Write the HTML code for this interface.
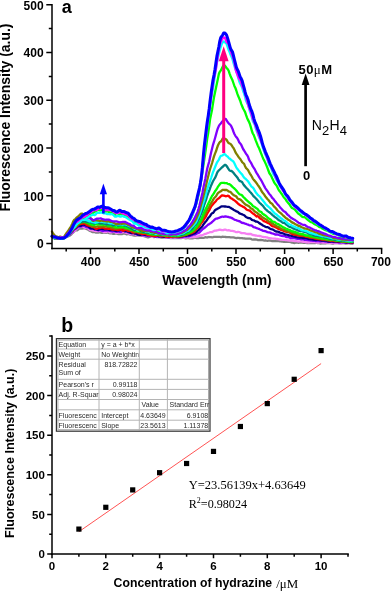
<!DOCTYPE html>
<html><head><meta charset="utf-8"><title>Fluorescence spectra</title>
<style>html,body{margin:0;padding:0;background:#fff}svg{display:block}</style></head>
<body>
<svg width="392" height="591" viewBox="0 0 392 591">
<rect width="392" height="591" fill="#fff"/>
<g font-family="'Liberation Sans', Arial, sans-serif" font-weight="bold" fill="#000">
<g><polyline points="52.0,236.8 52.9,237.4 53.9,238.0 54.9,238.5 55.9,238.7 56.8,238.8 57.8,238.4 58.8,238.2 59.7,238.5 60.7,238.6 61.7,238.2 62.7,238.0 63.6,238.0 64.6,238.0 65.6,237.3 66.5,236.8 67.5,236.6 68.5,236.2 69.4,235.8 70.4,235.2 71.4,234.3 72.4,233.3 73.3,232.4 74.3,231.4 75.3,230.6 76.2,230.4 77.2,230.3 78.2,229.6 79.1,228.7 80.1,228.5 81.1,228.6 82.1,228.5 83.0,228.4 84.0,228.3 85.0,228.3 85.9,228.8 86.9,229.2 87.9,229.5 88.9,230.2 89.8,230.8 90.8,231.1 91.8,231.7 92.7,232.2 93.7,232.1 94.7,232.1 95.6,232.6 96.6,232.5 97.6,232.5 98.6,232.5 99.5,232.1 100.5,232.3 101.5,232.9 102.4,232.8 103.4,232.7 104.4,232.7 105.3,232.8 106.3,232.8 107.3,232.6 108.3,232.7 109.2,233.1 110.2,233.3 111.2,233.3 112.1,233.5 113.1,233.8 114.1,233.9 115.0,233.6 116.0,233.3 117.0,233.5 118.0,234.1 118.9,234.0 119.9,233.9 120.9,234.2 121.8,234.1 122.8,233.6 123.8,233.3 124.8,233.5 125.7,234.0 126.7,234.3 127.7,234.1 128.6,234.0 129.6,234.4 130.6,234.8 131.5,234.8 132.5,235.1 133.5,235.4 134.5,235.7 135.4,235.6 136.4,235.5 137.4,235.2 138.3,235.3 139.3,235.6 140.3,235.7 141.2,235.8 142.2,235.8 143.2,235.9 144.2,236.2 145.1,236.5 146.1,236.7 147.1,237.2 148.0,237.4 149.0,237.1 150.0,236.9 150.9,236.5 151.9,236.2 152.9,236.8 153.9,237.2 154.8,236.9 155.8,236.9 156.8,237.1 157.7,237.1 158.7,236.9 159.7,237.1 160.7,237.5 161.6,237.5 162.6,237.5 163.6,237.7 164.5,237.6 165.5,237.6 166.5,237.4 167.4,237.4 168.4,237.7 169.4,237.8 170.4,238.0 171.3,238.2 172.3,238.1 173.3,238.0 174.2,238.1 175.2,238.1 176.2,238.1 177.1,238.0 178.1,238.0 179.1,237.9 180.1,238.1 181.0,238.2 182.0,237.9 183.0,237.8 183.9,238.0 184.9,238.2 185.9,238.3 186.9,238.2 187.8,238.1 188.8,238.1 189.8,238.3 190.7,238.3 191.7,238.4 192.7,238.3 193.6,238.0 194.6,237.9 195.6,237.9 196.6,238.0 197.5,238.1 198.5,238.0 199.5,237.9 200.4,237.8 201.4,237.7 202.4,237.8 203.3,237.8 204.3,237.6 205.3,237.2 206.3,237.4 207.2,237.5 208.2,237.1 209.2,237.0 210.1,237.2 211.1,237.2 212.1,237.3 213.0,237.2 214.0,236.9 215.0,236.8 216.0,236.9 216.9,236.9 217.9,236.8 218.9,236.8 219.8,236.9 220.8,237.1 221.8,237.0 222.8,236.7 223.7,236.8 224.7,236.9 225.7,237.0 226.6,237.1 227.6,237.1 228.6,237.1 229.5,237.2 230.5,237.4 231.5,237.3 232.5,237.3 233.4,237.4 234.4,237.6 235.4,237.9 236.3,238.1 237.3,237.8 238.3,237.8 239.2,238.0 240.2,238.1 241.2,238.1 242.2,238.1 243.1,238.3 244.1,238.4 245.1,238.5 246.0,238.7 247.0,238.7 248.0,238.7 248.9,238.6 249.9,238.6 250.9,238.8 251.9,239.4 252.8,239.6 253.8,239.5 254.8,239.5 255.7,239.5 256.7,239.6 257.7,240.0 258.7,240.2 259.6,240.0 260.6,239.9 261.6,240.0 262.5,240.2 263.5,240.4 264.5,240.6 265.4,240.5 266.4,240.7 267.4,240.8 268.4,240.6 269.3,240.6 270.3,240.7 271.3,240.9 272.2,241.1 273.2,241.2 274.2,241.2 275.1,241.2 276.1,241.2 277.1,241.2 278.1,241.0 279.0,241.1 280.0,241.4 281.0,241.4 281.9,241.5 282.9,241.7 283.9,241.9 284.9,241.8 285.8,241.7 286.8,241.8 287.8,241.9 288.7,241.9 289.7,241.9 290.7,242.2 291.6,242.5 292.6,242.6 293.6,242.8 294.6,243.0 295.5,242.6 296.5,242.3 297.5,242.5 298.4,242.8 299.4,242.7 300.4,242.5 301.3,242.6 302.3,242.7 303.3,242.8 304.3,242.8 305.2,242.7 306.2,242.8 307.2,243.0 308.1,243.1 309.1,243.1 310.1,243.1 311.0,243.1 312.0,243.2 313.0,243.2 314.0,243.2 314.9,243.2 315.9,242.9 316.9,242.9 317.8,243.1 318.8,243.1 319.8,243.3 320.8,243.5 321.7,243.4 322.7,243.2 323.7,243.3 324.6,243.4 325.6,243.4 326.6,243.2 327.5,243.1 328.5,243.1 329.5,243.1 330.5,243.1 331.4,243.3 332.4,243.5 333.4,243.5 334.3,243.1 335.3,243.0 336.3,243.1 337.2,243.2 338.2,243.2 339.2,243.3 340.2,243.4 341.1,243.4 342.1,243.2 343.1,243.1 344.0,243.2 345.0,243.4 346.0,243.5 347.0,243.4 347.9,243.1 348.9,243.2 349.9,243.4 350.8,243.5 351.8,243.6 352.8,243.5" fill="none" stroke="#808080" stroke-width="2.3" stroke-linejoin="round" stroke-linecap="round"/>
<polyline points="52.0,236.6 52.9,237.4 53.9,237.9 54.9,238.1 55.9,238.5 56.8,238.8 57.8,238.8 58.8,238.6 59.7,238.4 60.7,238.4 61.7,238.0 62.7,237.7 63.6,237.9 64.6,237.8 65.6,237.2 66.5,236.7 67.5,236.2 68.5,235.1 69.4,234.0 70.4,233.7 71.4,233.3 72.4,232.6 73.3,231.7 74.3,231.1 75.3,230.2 76.2,229.1 77.2,228.5 78.2,227.7 79.1,227.0 80.1,227.0 81.1,226.6 82.1,226.3 83.0,226.7 84.0,227.4 85.0,227.8 85.9,227.5 86.9,227.4 87.9,228.0 88.9,229.2 89.8,229.9 90.8,230.1 91.8,230.2 92.7,230.5 93.7,230.7 94.7,230.9 95.6,231.1 96.6,231.1 97.6,231.1 98.6,231.1 99.5,230.8 100.5,230.5 101.5,230.8 102.4,231.4 103.4,231.8 104.4,231.8 105.3,232.2 106.3,232.1 107.3,231.4 108.3,231.3 109.2,231.9 110.2,232.4 111.2,232.3 112.1,232.1 113.1,231.7 114.1,231.4 115.0,232.0 116.0,232.8 117.0,232.9 118.0,232.7 118.9,232.7 119.9,232.7 120.9,232.7 121.8,232.5 122.8,232.1 123.8,231.9 124.8,232.2 125.7,232.7 126.7,232.8 127.7,233.0 128.6,233.4 129.6,233.7 130.6,234.2 131.5,234.4 132.5,234.1 133.5,234.2 134.5,234.2 135.4,234.5 136.4,235.1 137.4,235.2 138.3,234.9 139.3,234.9 140.3,235.0 141.2,234.9 142.2,235.3 143.2,235.9 144.2,235.8 145.1,235.5 146.1,235.7 147.1,236.1 148.0,235.7 149.0,235.4 150.0,235.6 150.9,236.1 151.9,236.5 152.9,236.3 153.9,235.8 154.8,235.9 155.8,236.1 156.8,236.5 157.7,236.9 158.7,237.2 159.7,236.9 160.7,236.7 161.6,236.9 162.6,236.7 163.6,236.9 164.5,237.4 165.5,237.5 166.5,237.4 167.4,237.4 168.4,237.4 169.4,237.5 170.4,237.6 171.3,237.7 172.3,237.7 173.3,237.5 174.2,237.5 175.2,237.7 176.2,237.7 177.1,237.8 178.1,237.7 179.1,237.6 180.1,237.5 181.0,237.5 182.0,237.6 183.0,237.6 183.9,237.6 184.9,237.6 185.9,237.5 186.9,237.4 187.8,237.3 188.8,237.4 189.8,237.5 190.7,237.3 191.7,237.1 192.7,236.9 193.6,237.0 194.6,237.0 195.6,236.9 196.6,236.6 197.5,236.5 198.5,236.4 199.5,235.8 200.4,235.4 201.4,235.4 202.4,235.2 203.3,234.8 204.3,234.3 205.3,233.9 206.3,233.6 207.2,233.2 208.2,232.8 209.2,232.5 210.1,232.2 211.1,232.1 212.1,232.1 213.0,231.6 214.0,230.9 215.0,230.7 216.0,230.6 216.9,230.3 217.9,230.1 218.9,229.8 219.8,229.6 220.8,229.9 221.8,230.2 222.8,230.1 223.7,230.0 224.7,229.6 225.7,229.7 226.6,230.1 227.6,230.4 228.6,230.2 229.5,230.4 230.5,230.8 231.5,230.9 232.5,230.9 233.4,231.1 234.4,231.4 235.4,231.8 236.3,232.1 237.3,232.0 238.3,231.8 239.2,232.0 240.2,232.5 241.2,233.0 242.2,233.2 243.1,233.2 244.1,233.2 245.1,233.3 246.0,233.6 247.0,233.9 248.0,234.0 248.9,234.0 249.9,233.9 250.9,234.0 251.9,234.6 252.8,235.0 253.8,235.1 254.8,235.4 255.7,235.5 256.7,235.7 257.7,235.8 258.7,235.9 259.6,236.0 260.6,236.2 261.6,236.5 262.5,236.8 263.5,237.0 264.5,237.1 265.4,237.2 266.4,237.3 267.4,237.5 268.4,237.8 269.3,238.0 270.3,238.2 271.3,238.3 272.2,238.5 273.2,238.7 274.2,238.6 275.1,238.6 276.1,238.8 277.1,239.0 278.1,239.2 279.0,239.4 280.0,239.5 281.0,239.5 281.9,239.7 282.9,239.8 283.9,239.8 284.9,239.9 285.8,240.1 286.8,240.2 287.8,240.3 288.7,240.5 289.7,240.5 290.7,240.5 291.6,240.6 292.6,240.7 293.6,240.9 294.6,241.0 295.5,240.9 296.5,241.0 297.5,241.3 298.4,241.5 299.4,241.3 300.4,241.2 301.3,241.3 302.3,241.6 303.3,241.8 304.3,241.7 305.2,242.0 306.2,242.3 307.2,242.2 308.1,242.3 309.1,242.5 310.1,242.2 311.0,242.1 312.0,242.2 313.0,242.1 314.0,241.9 314.9,242.0 315.9,242.3 316.9,242.5 317.8,242.7 318.8,242.6 319.8,242.4 320.8,242.4 321.7,242.4 322.7,242.5 323.7,242.6 324.6,242.6 325.6,242.5 326.6,242.5 327.5,242.5 328.5,242.6 329.5,242.8 330.5,242.8 331.4,243.1 332.4,243.1 333.4,242.9 334.3,242.8 335.3,243.0 336.3,243.2 337.2,243.2 338.2,243.1 339.2,243.3 340.2,243.4 341.1,243.2 342.1,242.9 343.1,243.0 344.0,243.1 345.0,243.1 346.0,243.2 347.0,243.5 347.9,243.3 348.9,243.0 349.9,242.9 350.8,242.8 351.8,242.8 352.8,243.0" fill="none" stroke="#F77FF2" stroke-width="2.3" stroke-linejoin="round" stroke-linecap="round"/>
<polyline points="52.0,236.5 52.9,237.1 53.9,237.8 54.9,238.0 55.9,237.7 56.8,237.7 57.8,238.2 58.8,238.4 59.7,238.1 60.7,237.9 61.7,237.8 62.7,237.8 63.6,237.9 64.6,237.8 65.6,237.0 66.5,236.1 67.5,235.6 68.5,235.5 69.4,234.7 70.4,233.6 71.4,233.0 72.4,232.1 73.3,230.7 74.3,229.6 75.3,229.0 76.2,228.3 77.2,227.5 78.2,226.9 79.1,226.6 80.1,226.6 81.1,226.5 82.1,226.1 83.0,225.9 84.0,225.8 85.0,226.2 85.9,226.8 86.9,227.1 87.9,227.3 88.9,227.7 89.8,228.5 90.8,228.9 91.8,228.6 92.7,228.4 93.7,228.8 94.7,229.6 95.6,229.7 96.6,229.6 97.6,230.1 98.6,230.5 99.5,230.2 100.5,230.2 101.5,230.6 102.4,231.1 103.4,230.9 104.4,230.5 105.3,230.6 106.3,230.7 107.3,230.5 108.3,230.5 109.2,230.7 110.2,230.9 111.2,231.2 112.1,231.5 113.1,231.4 114.1,231.1 115.0,231.4 116.0,231.8 117.0,231.8 118.0,231.6 118.9,231.6 119.9,232.0 120.9,232.1 121.8,231.4 122.8,230.7 123.8,231.0 124.8,231.6 125.7,231.4 126.7,231.4 127.7,232.1 128.6,232.4 129.6,232.3 130.6,232.5 131.5,233.0 132.5,233.2 133.5,232.9 134.5,232.9 135.4,233.4 136.4,234.1 137.4,234.6 138.3,234.5 139.3,234.3 140.3,234.4 141.2,234.5 142.2,235.1 143.2,235.4 144.2,235.3 145.1,235.4 146.1,235.5 147.1,235.6 148.0,236.0 149.0,236.1 150.0,235.6 150.9,235.3 151.9,235.2 152.9,235.2 153.9,235.9 154.8,236.7 155.8,236.8 156.8,236.7 157.7,236.6 158.7,236.7 159.7,236.9 160.7,236.9 161.6,236.9 162.6,236.8 163.6,236.7 164.5,236.9 165.5,237.0 166.5,237.1 167.4,237.4 168.4,237.3 169.4,237.0 170.4,236.6 171.3,236.5 172.3,236.7 173.3,237.0 174.2,237.1 175.2,237.0 176.2,237.1 177.1,237.2 178.1,237.2 179.1,237.2 180.1,237.2 181.0,237.2 182.0,237.2 183.0,236.9 183.9,236.5 184.9,236.5 185.9,236.6 186.9,236.3 187.8,236.2 188.8,236.3 189.8,236.0 190.7,235.6 191.7,235.4 192.7,235.0 193.6,234.7 194.6,234.6 195.6,234.3 196.6,233.7 197.5,233.2 198.5,233.0 199.5,232.4 200.4,231.5 201.4,230.5 202.4,229.5 203.3,228.7 204.3,228.1 205.3,227.2 206.3,226.3 207.2,225.5 208.2,224.6 209.2,224.1 210.1,223.6 211.1,222.8 212.1,222.0 213.0,221.2 214.0,220.2 215.0,219.3 216.0,218.6 216.9,218.5 217.9,218.3 218.9,217.9 219.8,217.5 220.8,217.1 221.8,216.7 222.8,216.7 223.7,216.8 224.7,216.5 225.7,216.4 226.6,216.6 227.6,216.8 228.6,217.0 229.5,217.3 230.5,217.5 231.5,217.9 232.5,218.4 233.4,219.0 234.4,219.6 235.4,220.0 236.3,220.2 237.3,220.7 238.3,221.0 239.2,221.1 240.2,221.6 241.2,222.4 242.2,222.9 243.1,223.0 244.1,223.2 245.1,223.6 246.0,223.9 247.0,224.3 248.0,224.6 248.9,225.1 249.9,225.3 250.9,225.3 251.9,225.6 252.8,226.5 253.8,227.2 254.8,227.4 255.7,227.7 256.7,228.2 257.7,228.5 258.7,228.8 259.6,229.3 260.6,229.7 261.6,230.1 262.5,230.6 263.5,230.9 264.5,231.0 265.4,231.2 266.4,231.6 267.4,232.2 268.4,232.3 269.3,232.3 270.3,232.6 271.3,233.1 272.2,233.4 273.2,233.6 274.2,234.0 275.1,234.5 276.1,234.5 277.1,234.5 278.1,234.7 279.0,235.0 280.0,235.3 281.0,235.6 281.9,235.9 282.9,236.0 283.9,235.9 284.9,236.3 285.8,236.8 286.8,237.0 287.8,237.0 288.7,237.2 289.7,237.7 290.7,238.1 291.6,238.1 292.6,238.1 293.6,238.1 294.6,238.2 295.5,238.4 296.5,238.7 297.5,238.9 298.4,238.8 299.4,238.7 300.4,239.0 301.3,239.3 302.3,239.3 303.3,239.4 304.3,239.8 305.2,239.9 306.2,239.9 307.2,240.0 308.1,240.2 309.1,240.4 310.1,240.4 311.0,240.5 312.0,240.7 313.0,240.9 314.0,240.8 314.9,240.8 315.9,241.0 316.9,241.0 317.8,241.1 318.8,241.2 319.8,241.3 320.8,241.3 321.7,241.1 322.7,240.8 323.7,241.0 324.6,241.4 325.6,241.5 326.6,241.6 327.5,241.6 328.5,241.7 329.5,241.9 330.5,241.9 331.4,241.8 332.4,241.8 333.4,242.0 334.3,242.2 335.3,242.2 336.3,242.1 337.2,242.2 338.2,242.3 339.2,242.6 340.2,242.7 341.1,242.4 342.1,242.3 343.1,242.5 344.0,242.5 345.0,242.5 346.0,242.7 347.0,242.8 347.9,242.7 348.9,242.7 349.9,242.8 350.8,242.7 351.8,242.9 352.8,243.0" fill="none" stroke="#8000FF" stroke-width="2.3" stroke-linejoin="round" stroke-linecap="round"/>
<polyline points="52.0,236.3 52.9,237.3 53.9,238.1 54.9,238.1 55.9,237.8 56.8,237.9 57.8,238.2 58.8,238.2 59.7,238.1 60.7,238.2 61.7,238.1 62.7,238.0 63.6,238.0 64.6,237.6 65.6,236.9 66.5,236.3 67.5,235.7 68.5,234.8 69.4,233.6 70.4,232.6 71.4,231.6 72.4,230.5 73.3,229.5 74.3,228.6 75.3,228.1 76.2,227.5 77.2,226.5 78.2,225.5 79.1,225.3 80.1,225.9 81.1,225.6 82.1,224.7 83.0,224.4 84.0,224.6 85.0,225.0 85.9,225.3 86.9,225.6 87.9,226.1 88.9,226.9 89.8,227.8 90.8,228.1 91.8,228.3 92.7,228.5 93.7,228.9 94.7,229.2 95.6,229.2 96.6,229.5 97.6,229.8 98.6,229.8 99.5,229.3 100.5,228.9 101.5,228.8 102.4,229.0 103.4,229.0 104.4,229.3 105.3,229.4 106.3,229.3 107.3,229.3 108.3,229.7 109.2,230.0 110.2,230.0 111.2,230.2 112.1,230.2 113.1,230.2 114.1,230.3 115.0,230.6 116.0,230.8 117.0,230.7 118.0,230.6 118.9,230.5 119.9,230.0 120.9,229.9 121.8,229.9 122.8,230.2 123.8,230.9 124.8,231.1 125.7,231.0 126.7,231.2 127.7,231.5 128.6,232.0 129.6,232.5 130.6,232.8 131.5,233.1 132.5,233.1 133.5,233.2 134.5,233.5 135.4,233.5 136.4,233.6 137.4,234.3 138.3,234.6 139.3,234.8 140.3,234.9 141.2,234.5 142.2,234.1 143.2,234.4 144.2,234.7 145.1,234.9 146.1,235.0 147.1,235.0 148.0,235.0 149.0,234.7 150.0,234.6 150.9,235.0 151.9,235.5 152.9,235.7 153.9,235.6 154.8,235.5 155.8,235.6 156.8,235.5 157.7,235.7 158.7,236.4 159.7,236.3 160.7,236.0 161.6,236.3 162.6,236.6 163.6,236.8 164.5,236.9 165.5,236.3 166.5,235.7 167.4,236.1 168.4,236.9 169.4,237.0 170.4,236.8 171.3,236.8 172.3,237.0 173.3,237.0 174.2,236.7 175.2,236.7 176.2,236.9 177.1,237.1 178.1,237.2 179.1,237.1 180.1,237.0 181.0,236.7 182.0,236.4 183.0,236.1 183.9,235.7 184.9,235.8 185.9,235.9 186.9,235.5 187.8,235.2 188.8,235.3 189.8,235.1 190.7,234.8 191.7,234.4 192.7,233.9 193.6,233.7 194.6,233.3 195.6,232.5 196.6,231.7 197.5,230.9 198.5,230.1 199.5,229.1 200.4,228.2 201.4,227.4 202.4,226.1 203.3,224.7 204.3,223.3 205.3,222.0 206.3,221.0 207.2,219.6 208.2,218.1 209.2,217.0 210.1,215.9 211.1,214.3 212.1,213.3 213.0,212.9 214.0,211.7 215.0,210.2 216.0,209.5 216.9,209.1 217.9,208.5 218.9,208.0 219.8,207.4 220.8,206.8 221.8,206.3 222.8,206.3 223.7,206.4 224.7,206.5 225.7,206.5 226.6,206.7 227.6,206.8 228.6,206.8 229.5,207.3 230.5,207.8 231.5,208.4 232.5,209.0 233.4,209.7 234.4,210.2 235.4,210.7 236.3,211.3 237.3,211.6 238.3,212.2 239.2,213.1 240.2,213.6 241.2,214.0 242.2,214.4 243.1,214.8 244.1,215.2 245.1,216.1 246.0,217.0 247.0,217.5 248.0,218.0 248.9,218.1 249.9,218.2 250.9,218.9 251.9,219.9 252.8,220.2 253.8,220.3 254.8,220.9 255.7,221.5 256.7,221.7 257.7,221.9 258.7,222.6 259.6,223.4 260.6,223.9 261.6,224.5 262.5,225.2 263.5,225.8 264.5,226.2 265.4,226.7 266.4,227.1 267.4,227.2 268.4,227.5 269.3,228.2 270.3,228.8 271.3,229.1 272.2,229.3 273.2,229.7 274.2,230.4 275.1,231.0 276.1,231.5 277.1,231.7 278.1,231.7 279.0,232.1 280.0,232.6 281.0,232.9 281.9,233.0 282.9,233.3 283.9,233.7 284.9,234.2 285.8,234.7 286.8,234.7 287.8,234.8 288.7,235.3 289.7,235.5 290.7,235.6 291.6,235.9 292.6,236.2 293.6,236.3 294.6,236.5 295.5,236.9 296.5,237.2 297.5,237.3 298.4,237.4 299.4,237.6 300.4,237.5 301.3,237.6 302.3,237.8 303.3,238.0 304.3,238.0 305.2,238.0 306.2,238.1 307.2,238.4 308.1,238.8 309.1,239.0 310.1,239.1 311.0,239.3 312.0,239.4 313.0,239.5 314.0,239.8 314.9,240.0 315.9,240.1 316.9,239.9 317.8,239.8 318.8,239.9 319.8,240.2 320.8,240.4 321.7,240.5 322.7,240.5 323.7,240.6 324.6,240.5 325.6,240.5 326.6,240.9 327.5,241.3 328.5,241.5 329.5,241.6 330.5,241.5 331.4,241.2 332.4,241.4 333.4,241.7 334.3,241.5 335.3,241.5 336.3,241.7 337.2,241.9 338.2,241.9 339.2,241.9 340.2,241.8 341.1,241.7 342.1,241.7 343.1,241.8 344.0,241.8 345.0,242.1 346.0,242.5 347.0,242.4 347.9,242.3 348.9,242.4 349.9,242.3 350.8,242.5 351.8,242.5 352.8,242.3" fill="none" stroke="#000080" stroke-width="2.3" stroke-linejoin="round" stroke-linecap="round"/>
<polyline points="52.0,236.4 52.9,236.9 53.9,237.2 54.9,237.4 55.9,238.2 56.8,238.9 57.8,238.8 58.8,238.6 59.7,238.5 60.7,238.0 61.7,237.7 62.7,238.0 63.6,237.8 64.6,237.0 65.6,236.7 66.5,236.4 67.5,235.3 68.5,234.4 69.4,233.5 70.4,232.5 71.4,231.7 72.4,230.9 73.3,229.5 74.3,228.4 75.3,227.6 76.2,226.7 77.2,225.5 78.2,224.6 79.1,224.4 80.1,224.1 81.1,223.9 82.1,223.8 83.0,223.5 84.0,223.3 85.0,223.5 85.9,224.3 86.9,225.1 87.9,225.5 88.9,225.7 89.8,225.9 90.8,226.2 91.8,226.7 92.7,227.0 93.7,227.2 94.7,227.9 95.6,228.7 96.6,228.9 97.6,228.5 98.6,228.0 99.5,228.0 100.5,227.8 101.5,227.6 102.4,227.5 103.4,227.8 104.4,228.3 105.3,228.6 106.3,228.6 107.3,228.7 108.3,228.9 109.2,228.7 110.2,228.8 111.2,229.3 112.1,229.5 113.1,229.6 114.1,229.5 115.0,229.4 116.0,229.6 117.0,229.9 118.0,230.1 118.9,229.8 119.9,229.7 120.9,229.6 121.8,230.0 122.8,230.7 123.8,230.5 124.8,229.9 125.7,229.7 126.7,230.1 127.7,230.7 128.6,231.1 129.6,230.7 130.6,230.7 131.5,231.6 132.5,232.4 133.5,232.7 134.5,232.1 135.4,231.7 136.4,232.1 137.4,232.5 138.3,233.0 139.3,233.4 140.3,233.4 141.2,233.8 142.2,234.0 143.2,233.8 144.2,233.7 145.1,233.9 146.1,234.3 147.1,234.8 148.0,235.1 149.0,235.0 150.0,235.2 150.9,235.6 151.9,235.6 152.9,235.7 153.9,236.0 154.8,236.2 155.8,236.0 156.8,235.6 157.7,235.1 158.7,235.2 159.7,236.0 160.7,236.1 161.6,235.8 162.6,236.0 163.6,236.0 164.5,235.8 165.5,236.3 166.5,236.9 167.4,236.9 168.4,236.5 169.4,236.5 170.4,236.8 171.3,236.8 172.3,236.5 173.3,236.5 174.2,236.6 175.2,236.4 176.2,236.5 177.1,236.7 178.1,236.5 179.1,236.3 180.1,236.4 181.0,236.5 182.0,236.1 183.0,235.5 183.9,235.4 184.9,235.3 185.9,234.9 186.9,234.7 187.8,234.3 188.8,233.8 189.8,233.5 190.7,233.3 191.7,233.0 192.7,232.4 193.6,232.0 194.6,231.3 195.6,230.0 196.6,228.9 197.5,228.2 198.5,227.3 199.5,225.9 200.4,224.3 201.4,222.9 202.4,221.8 203.3,220.4 204.3,218.8 205.3,217.4 206.3,215.6 207.2,213.6 208.2,212.0 209.2,210.4 210.1,208.5 211.1,206.6 212.1,205.3 213.0,204.2 214.0,203.0 215.0,202.1 216.0,200.9 216.9,199.6 217.9,198.9 218.9,198.2 219.8,197.4 220.8,196.3 221.8,195.5 222.8,195.5 223.7,195.6 224.7,195.9 225.7,196.3 226.6,196.2 227.6,195.7 228.6,195.8 229.5,196.9 230.5,197.9 231.5,198.5 232.5,199.1 233.4,199.7 234.4,200.4 235.4,201.1 236.3,201.9 237.3,202.9 238.3,203.8 239.2,204.6 240.2,205.2 241.2,205.8 242.2,206.3 243.1,206.9 244.1,207.3 245.1,208.0 246.0,209.0 247.0,209.8 248.0,210.2 248.9,210.4 249.9,210.8 250.9,211.7 251.9,212.6 252.8,213.3 253.8,214.1 254.8,214.7 255.7,215.7 256.7,216.5 257.7,216.2 258.7,216.8 259.6,218.0 260.6,218.7 261.6,219.2 262.5,220.0 263.5,220.9 264.5,221.4 265.4,221.7 266.4,222.1 267.4,222.6 268.4,223.1 269.3,223.6 270.3,224.4 271.3,225.3 272.2,226.1 273.2,226.4 274.2,226.5 275.1,227.1 276.1,227.5 277.1,228.1 278.1,228.7 279.0,229.1 280.0,229.5 281.0,229.8 281.9,230.0 282.9,230.4 283.9,231.0 284.9,231.4 285.8,231.7 286.8,231.9 287.8,231.9 288.7,232.0 289.7,232.6 290.7,233.3 291.6,233.7 292.6,234.2 293.6,234.5 294.6,234.7 295.5,234.9 296.5,235.0 297.5,235.1 298.4,235.4 299.4,235.8 300.4,235.9 301.3,235.8 302.3,235.9 303.3,236.0 304.3,236.2 305.2,236.5 306.2,236.9 307.2,236.9 308.1,237.0 309.1,237.5 310.1,237.5 311.0,237.5 312.0,237.8 313.0,237.9 314.0,238.1 314.9,238.5 315.9,238.7 316.9,238.9 317.8,239.1 318.8,239.2 319.8,239.3 320.8,239.3 321.7,239.5 322.7,239.6 323.7,239.4 324.6,239.5 325.6,239.8 326.6,240.1 327.5,240.2 328.5,240.3 329.5,240.5 330.5,240.8 331.4,240.5 332.4,240.4 333.4,240.9 334.3,241.0 335.3,241.0 336.3,241.1 337.2,241.2 338.2,241.4 339.2,241.4 340.2,241.3 341.1,241.5 342.1,241.7 343.1,241.8 344.0,241.7 345.0,241.7 346.0,241.8 347.0,242.0 347.9,242.1 348.9,242.0 349.9,242.2 350.8,242.5 351.8,242.4 352.8,242.3" fill="none" stroke="#FF0000" stroke-width="2.3" stroke-linejoin="round" stroke-linecap="round"/>
<polyline points="52.0,236.5 52.9,236.9 53.9,237.8 54.9,238.1 55.9,237.8 56.8,237.7 57.8,237.7 58.8,238.0 59.7,238.4 60.7,238.1 61.7,237.5 62.7,237.4 63.6,237.5 64.6,237.3 65.6,236.8 66.5,235.8 67.5,234.6 68.5,234.1 69.4,233.6 70.4,232.4 71.4,230.9 72.4,229.7 73.3,229.0 74.3,228.1 75.3,227.2 76.2,226.7 77.2,225.7 78.2,224.5 79.1,223.9 80.1,223.3 81.1,222.6 82.1,222.4 83.0,222.3 84.0,222.0 85.0,222.4 85.9,223.1 86.9,223.3 87.9,223.8 88.9,224.6 89.8,225.0 90.8,225.6 91.8,226.3 92.7,226.3 93.7,226.3 94.7,226.6 95.6,226.9 96.6,226.6 97.6,226.3 98.6,226.4 99.5,226.5 100.5,226.4 101.5,226.6 102.4,226.4 103.4,226.1 104.4,226.6 105.3,226.7 106.3,226.5 107.3,226.8 108.3,227.0 109.2,226.8 110.2,227.1 111.2,227.9 112.1,228.2 113.1,228.2 114.1,228.5 115.0,228.6 116.0,228.5 117.0,228.4 118.0,228.4 118.9,228.2 119.9,228.1 120.9,228.2 121.8,227.9 122.8,227.6 123.8,228.0 124.8,228.7 125.7,228.9 126.7,229.1 127.7,229.1 128.6,229.2 129.6,229.9 130.6,230.1 131.5,230.3 132.5,230.8 133.5,231.3 134.5,231.8 135.4,232.1 136.4,231.7 137.4,231.5 138.3,232.0 139.3,232.6 140.3,232.8 141.2,232.7 142.2,232.6 143.2,232.5 144.2,232.5 145.1,232.7 146.1,233.0 147.1,233.2 148.0,233.8 149.0,234.3 150.0,234.3 150.9,234.2 151.9,234.7 152.9,234.9 153.9,234.6 154.8,234.7 155.8,234.9 156.8,235.0 157.7,235.0 158.7,235.1 159.7,235.6 160.7,235.6 161.6,235.4 162.6,235.4 163.6,235.7 164.5,236.0 165.5,236.0 166.5,235.8 167.4,235.7 168.4,235.9 169.4,235.8 170.4,235.8 171.3,236.0 172.3,236.1 173.3,236.4 174.2,236.6 175.2,236.5 176.2,236.3 177.1,236.1 178.1,236.0 179.1,236.0 180.1,236.0 181.0,235.8 182.0,235.7 183.0,235.5 183.9,235.2 184.9,235.1 185.9,234.9 186.9,234.5 187.8,233.9 188.8,233.3 189.8,232.9 190.7,232.7 191.7,232.3 192.7,231.6 193.6,230.9 194.6,230.2 195.6,229.1 196.6,228.2 197.5,227.3 198.5,225.8 199.5,224.3 200.4,222.8 201.4,221.1 202.4,219.3 203.3,217.2 204.3,215.3 205.3,213.4 206.3,211.5 207.2,209.7 208.2,208.2 209.2,206.6 210.1,204.8 211.1,203.1 212.1,201.7 213.0,199.9 214.0,198.3 215.0,197.3 216.0,196.3 216.9,194.7 217.9,193.2 218.9,192.4 219.8,191.8 220.8,191.3 221.8,190.4 222.8,189.8 223.7,189.8 224.7,190.0 225.7,190.0 226.6,190.0 227.6,190.5 228.6,191.4 229.5,191.7 230.5,191.9 231.5,193.1 232.5,194.2 233.4,195.0 234.4,195.6 235.4,195.8 236.3,196.5 237.3,198.0 238.3,199.0 239.2,199.1 240.2,199.5 241.2,200.2 242.2,201.2 243.1,202.3 244.1,203.3 245.1,204.3 246.0,204.9 247.0,205.2 248.0,205.7 248.9,206.3 249.9,207.3 250.9,208.4 251.9,208.8 252.8,209.3 253.8,210.4 254.8,211.5 255.7,212.0 256.7,212.5 257.7,213.5 258.7,214.3 259.6,214.7 260.6,215.6 261.6,216.6 262.5,217.3 263.5,217.9 264.5,218.5 265.4,219.0 266.4,219.5 267.4,220.3 268.4,221.3 269.3,221.7 270.3,222.0 271.3,222.6 272.2,223.2 273.2,224.1 274.2,224.7 275.1,225.1 276.1,226.0 277.1,226.6 278.1,226.7 279.0,227.2 280.0,227.9 281.0,228.5 281.9,229.0 282.9,229.3 283.9,229.5 284.9,230.0 285.8,230.5 286.8,230.8 287.8,231.2 288.7,231.6 289.7,231.7 290.7,232.2 291.6,232.5 292.6,232.6 293.6,233.0 294.6,233.4 295.5,233.5 296.5,233.7 297.5,234.0 298.4,234.3 299.4,234.6 300.4,234.8 301.3,235.2 302.3,235.3 303.3,235.2 304.3,235.5 305.2,235.7 306.2,235.8 307.2,236.2 308.1,236.6 309.1,236.8 310.1,237.0 311.0,236.9 312.0,237.1 313.0,237.5 314.0,237.8 314.9,237.8 315.9,238.0 316.9,238.2 317.8,238.4 318.8,238.8 319.8,238.9 320.8,238.9 321.7,239.0 322.7,239.1 323.7,239.3 324.6,239.4 325.6,239.6 326.6,239.9 327.5,240.2 328.5,240.2 329.5,240.2 330.5,240.3 331.4,240.3 332.4,240.2 333.4,240.2 334.3,240.4 335.3,240.8 336.3,241.0 337.2,240.9 338.2,240.8 339.2,240.9 340.2,241.0 341.1,241.1 342.1,241.1 343.1,241.2 344.0,241.4 345.0,241.5 346.0,241.6 347.0,241.6 347.9,241.7 348.9,241.7 349.9,241.7 350.8,241.7 351.8,241.8 352.8,241.9" fill="none" stroke="#808000" stroke-width="2.3" stroke-linejoin="round" stroke-linecap="round"/>
<polyline points="52.0,236.3 52.9,236.6 53.9,237.5 54.9,238.3 55.9,238.4 56.8,238.0 57.8,237.6 58.8,237.7 59.7,238.0 60.7,238.1 61.7,237.9 62.7,237.3 63.6,237.1 64.6,237.1 65.6,236.4 66.5,235.7 67.5,235.1 68.5,234.1 69.4,233.3 70.4,232.4 71.4,230.8 72.4,229.3 73.3,228.6 74.3,227.5 75.3,225.8 76.2,224.6 77.2,223.7 78.2,223.1 79.1,222.9 80.1,222.4 81.1,222.1 82.1,221.9 83.0,221.7 84.0,221.5 85.0,221.5 85.9,221.9 86.9,222.4 87.9,222.8 88.9,223.2 89.8,223.8 90.8,224.2 91.8,224.5 92.7,224.8 93.7,224.9 94.7,224.7 95.6,224.0 96.6,224.0 97.6,224.4 98.6,224.4 99.5,224.0 100.5,224.3 101.5,224.7 102.4,224.7 103.4,224.6 104.4,224.6 105.3,224.6 106.3,224.7 107.3,225.2 108.3,225.6 109.2,225.5 110.2,225.4 111.2,225.7 112.1,226.0 113.1,225.8 114.1,226.1 115.0,226.9 116.0,227.4 117.0,227.4 118.0,227.1 118.9,226.9 119.9,227.0 120.9,227.1 121.8,227.1 122.8,227.1 123.8,226.8 124.8,227.0 125.7,227.9 126.7,228.1 127.7,228.0 128.6,228.3 129.6,228.8 130.6,229.4 131.5,229.7 132.5,229.8 133.5,230.1 134.5,230.4 135.4,230.6 136.4,231.2 137.4,231.5 138.3,231.3 139.3,231.4 140.3,231.6 141.2,231.5 142.2,231.8 143.2,232.5 144.2,232.6 145.1,232.1 146.1,232.3 147.1,233.2 148.0,233.7 149.0,233.7 150.0,233.9 150.9,234.1 151.9,234.1 152.9,234.4 153.9,234.4 154.8,234.1 155.8,234.3 156.8,234.4 157.7,234.1 158.7,234.3 159.7,234.6 160.7,234.9 161.6,234.9 162.6,234.5 163.6,234.8 164.5,235.4 165.5,235.4 166.5,235.1 167.4,235.0 168.4,235.1 169.4,235.3 170.4,235.7 171.3,235.9 172.3,235.9 173.3,235.8 174.2,235.5 175.2,235.2 176.2,235.6 177.1,236.0 178.1,235.8 179.1,235.5 180.1,235.5 181.0,235.4 182.0,235.0 183.0,234.7 183.9,234.5 184.9,234.3 185.9,233.8 186.9,233.6 187.8,233.4 188.8,233.0 189.8,232.4 190.7,231.7 191.7,231.2 192.7,230.4 193.6,229.5 194.6,228.7 195.6,227.8 196.6,226.7 197.5,225.2 198.5,223.7 199.5,222.5 200.4,221.2 201.4,219.1 202.4,216.5 203.3,214.0 204.3,211.9 205.3,209.8 206.3,207.9 207.2,205.9 208.2,203.7 209.2,201.8 210.1,200.0 211.1,197.7 212.1,195.8 213.0,194.7 214.0,193.2 215.0,191.2 216.0,190.0 216.9,188.7 217.9,186.8 218.9,185.4 219.8,184.3 220.8,183.1 221.8,182.8 222.8,182.9 223.7,182.8 224.7,183.0 225.7,183.1 226.6,183.1 227.6,183.7 228.6,184.1 229.5,184.2 230.5,184.9 231.5,185.9 232.5,186.9 233.4,187.7 234.4,188.5 235.4,189.5 236.3,190.5 237.3,191.8 238.3,193.0 239.2,193.9 240.2,194.5 241.2,194.8 242.2,195.5 243.1,196.7 244.1,197.7 245.1,198.6 246.0,199.7 247.0,200.5 248.0,201.4 248.9,202.3 249.9,203.0 250.9,203.7 251.9,204.8 252.8,205.9 253.8,206.5 254.8,207.0 255.7,207.8 256.7,208.4 257.7,209.2 258.7,210.5 259.6,211.3 260.6,211.6 261.6,212.3 262.5,213.6 263.5,214.4 264.5,214.9 265.4,215.5 266.4,216.3 267.4,217.3 268.4,218.2 269.3,218.8 270.3,219.2 271.3,220.3 272.2,221.4 273.2,221.7 274.2,221.9 275.1,222.3 276.1,223.1 277.1,223.8 278.1,224.1 279.0,224.6 280.0,225.3 281.0,225.8 281.9,226.4 282.9,227.0 283.9,227.5 284.9,228.0 285.8,228.5 286.8,228.8 287.8,229.3 288.7,229.6 289.7,229.9 290.7,230.5 291.6,231.1 292.6,231.4 293.6,231.5 294.6,231.8 295.5,232.1 296.5,232.5 297.5,232.9 298.4,233.3 299.4,233.6 300.4,233.7 301.3,233.9 302.3,234.1 303.3,234.2 304.3,234.7 305.2,235.3 306.2,235.5 307.2,235.5 308.1,235.3 309.1,235.4 310.1,235.9 311.0,236.3 312.0,236.4 313.0,236.5 314.0,236.6 314.9,236.8 315.9,237.1 316.9,237.3 317.8,237.6 318.8,237.7 319.8,237.6 320.8,238.0 321.7,238.4 322.7,238.7 323.7,238.7 324.6,238.7 325.6,238.9 326.6,239.2 327.5,239.3 328.5,239.3 329.5,239.4 330.5,239.5 331.4,239.6 332.4,239.7 333.4,239.9 334.3,240.0 335.3,240.2 336.3,240.5 337.2,240.6 338.2,240.7 339.2,240.9 340.2,241.2 341.1,241.4 342.1,241.3 343.1,241.3 344.0,241.3 345.0,241.4 346.0,241.3 347.0,241.3 347.9,241.6 348.9,241.8 349.9,241.9 350.8,242.0 351.8,241.9 352.8,241.8" fill="none" stroke="#00FF00" stroke-width="2.3" stroke-linejoin="round" stroke-linecap="round"/>
<polyline points="52.0,236.7 52.9,237.5 53.9,237.9 54.9,238.0 55.9,237.8 56.8,237.4 57.8,237.7 58.8,238.4 59.7,238.8 60.7,238.9 61.7,238.5 62.7,237.9 63.6,237.7 64.6,237.5 65.6,236.7 66.5,235.6 67.5,234.5 68.5,233.9 69.4,233.1 70.4,231.8 71.4,230.5 72.4,229.6 73.3,228.8 74.3,227.7 75.3,226.3 76.2,224.4 77.2,223.1 78.2,222.9 79.1,222.4 80.1,222.0 81.1,222.0 82.1,221.6 83.0,221.3 84.0,221.0 85.0,220.9 85.9,221.5 86.9,221.6 87.9,221.6 88.9,222.1 89.8,222.2 90.8,222.3 91.8,222.7 92.7,222.9 93.7,223.3 94.7,223.5 95.6,222.7 96.6,222.0 97.6,222.3 98.6,222.8 99.5,223.3 100.5,223.4 101.5,223.4 102.4,223.3 103.4,223.1 104.4,223.5 105.3,224.0 106.3,224.3 107.3,224.1 108.3,224.0 109.2,224.3 110.2,224.2 111.2,224.0 112.1,224.8 113.1,225.4 114.1,225.2 115.0,224.6 116.0,224.5 117.0,225.1 118.0,225.7 118.9,225.5 119.9,225.2 120.9,225.2 121.8,224.7 122.8,224.7 123.8,225.3 124.8,225.5 125.7,225.5 126.7,225.9 127.7,226.5 128.6,226.8 129.6,227.4 130.6,228.1 131.5,228.5 132.5,229.0 133.5,229.7 134.5,230.2 135.4,230.0 136.4,229.3 137.4,229.3 138.3,229.7 139.3,230.2 140.3,230.8 141.2,231.1 142.2,231.3 143.2,231.9 144.2,232.1 145.1,232.0 146.1,232.3 147.1,232.5 148.0,232.5 149.0,232.5 150.0,232.5 150.9,232.8 151.9,233.1 152.9,233.2 153.9,233.5 154.8,233.8 155.8,233.7 156.8,233.5 157.7,233.4 158.7,233.8 159.7,234.5 160.7,234.7 161.6,234.5 162.6,234.6 163.6,234.8 164.5,234.8 165.5,234.7 166.5,235.0 167.4,235.2 168.4,234.9 169.4,235.0 170.4,235.2 171.3,235.2 172.3,235.2 173.3,235.2 174.2,235.3 175.2,235.4 176.2,235.3 177.1,235.2 178.1,234.9 179.1,234.7 180.1,234.6 181.0,234.8 182.0,234.8 183.0,234.3 183.9,233.8 184.9,233.1 185.9,232.4 186.9,232.1 187.8,231.7 188.8,231.2 189.8,230.6 190.7,229.9 191.7,229.2 192.7,228.2 193.6,226.9 194.6,225.7 195.6,224.5 196.6,223.3 197.5,221.8 198.5,219.9 199.5,217.8 200.4,215.4 201.4,213.1 202.4,210.8 203.3,207.8 204.3,204.5 205.3,201.8 206.3,199.0 207.2,195.8 208.2,193.0 209.2,190.8 210.1,188.2 211.1,185.4 212.1,183.2 213.0,181.3 214.0,179.5 215.0,177.9 216.0,175.8 216.9,173.3 217.9,171.4 218.9,170.3 219.8,169.5 220.8,168.5 221.8,167.5 222.8,166.8 223.7,165.8 224.7,165.0 225.7,164.9 226.6,166.0 227.6,167.5 228.6,169.1 229.5,170.5 230.5,170.8 231.5,171.0 232.5,171.7 233.4,172.7 234.4,174.0 235.4,175.2 236.3,176.2 237.3,177.4 238.3,179.1 239.2,180.5 240.2,181.2 241.2,181.5 242.2,182.2 243.1,183.8 244.1,185.4 245.1,186.4 246.0,187.4 247.0,188.5 248.0,189.5 248.9,190.6 249.9,191.7 250.9,192.7 251.9,193.9 252.8,195.2 253.8,196.4 254.8,197.3 255.7,198.2 256.7,199.3 257.7,200.4 258.7,201.7 259.6,202.8 260.6,203.6 261.6,204.6 262.5,205.4 263.5,206.6 264.5,208.1 265.4,209.1 266.4,209.9 267.4,210.9 268.4,211.7 269.3,212.2 270.3,213.0 271.3,213.9 272.2,214.8 273.2,215.6 274.2,216.5 275.1,217.2 276.1,217.8 277.1,218.6 278.1,219.6 279.0,220.3 280.0,220.8 281.0,221.3 281.9,222.1 282.9,222.8 283.9,222.9 284.9,223.3 285.8,224.2 286.8,224.9 287.8,225.7 288.7,226.5 289.7,226.9 290.7,227.1 291.6,227.4 292.6,228.0 293.6,228.7 294.6,229.0 295.5,229.3 296.5,229.8 297.5,230.2 298.4,230.6 299.4,230.8 300.4,230.7 301.3,230.8 302.3,231.3 303.3,231.7 304.3,231.9 305.2,232.1 306.2,232.3 307.2,232.8 308.1,233.3 309.1,233.6 310.1,233.8 311.0,234.1 312.0,234.4 313.0,235.0 314.0,235.4 314.9,235.6 315.9,235.8 316.9,235.8 317.8,236.0 318.8,236.3 319.8,236.3 320.8,236.4 321.7,236.6 322.7,236.6 323.7,236.9 324.6,237.4 325.6,237.6 326.6,237.7 327.5,237.9 328.5,238.2 329.5,238.6 330.5,238.9 331.4,239.1 332.4,239.2 333.4,239.4 334.3,239.7 335.3,239.8 336.3,239.7 337.2,239.7 338.2,240.0 339.2,240.4 340.2,240.5 341.1,240.5 342.1,240.5 343.1,240.6 344.0,240.5 345.0,240.7 346.0,240.8 347.0,240.9 347.9,240.9 348.9,241.0 349.9,241.0 350.8,241.1 351.8,241.2 352.8,241.3" fill="none" stroke="#008080" stroke-width="2.3" stroke-linejoin="round" stroke-linecap="round"/>
<polyline points="52.0,236.1 52.9,236.5 53.9,236.9 54.9,237.3 55.9,237.6 56.8,237.7 57.8,237.7 58.8,238.2 59.7,238.4 60.7,237.9 61.7,237.8 62.7,238.1 63.6,237.9 64.6,237.2 65.6,235.9 66.5,235.3 67.5,234.9 68.5,233.7 69.4,232.2 70.4,230.9 71.4,230.3 72.4,229.5 73.3,227.8 74.3,226.3 75.3,225.5 76.2,224.6 77.2,223.0 78.2,222.0 79.1,221.8 80.1,221.1 81.1,220.3 82.1,219.5 83.0,219.6 84.0,219.8 85.0,219.6 85.9,219.9 86.9,220.3 87.9,220.5 88.9,221.2 89.8,221.5 90.8,221.2 91.8,221.7 92.7,222.2 93.7,222.3 94.7,222.7 95.6,222.8 96.6,222.4 97.6,222.1 98.6,221.7 99.5,221.5 100.5,221.6 101.5,221.6 102.4,221.8 103.4,222.2 104.4,222.4 105.3,222.4 106.3,222.1 107.3,222.2 108.3,222.8 109.2,223.2 110.2,223.3 111.2,223.3 112.1,223.3 113.1,223.7 114.1,224.0 115.0,223.8 116.0,224.0 117.0,224.3 118.0,224.2 118.9,224.3 119.9,224.4 120.9,224.3 121.8,224.5 122.8,224.6 123.8,224.4 124.8,224.1 125.7,224.4 126.7,224.9 127.7,225.2 128.6,225.7 129.6,226.2 130.6,226.5 131.5,226.9 132.5,227.1 133.5,228.1 134.5,228.8 135.4,228.8 136.4,229.2 137.4,230.1 138.3,230.5 139.3,230.0 140.3,229.7 141.2,229.9 142.2,230.0 143.2,230.2 144.2,230.7 145.1,231.1 146.1,231.6 147.1,231.8 148.0,231.6 149.0,232.0 150.0,232.5 150.9,232.5 151.9,232.7 152.9,232.9 153.9,232.9 154.8,233.3 155.8,233.9 156.8,233.6 157.7,233.3 158.7,233.7 159.7,233.8 160.7,233.6 161.6,233.9 162.6,234.4 163.6,234.5 164.5,234.3 165.5,234.3 166.5,234.9 167.4,235.0 168.4,234.6 169.4,234.6 170.4,234.8 171.3,235.0 172.3,234.9 173.3,234.8 174.2,234.8 175.2,235.0 176.2,234.8 177.1,234.7 178.1,234.7 179.1,234.3 180.1,234.1 181.0,233.8 182.0,233.6 183.0,233.4 183.9,232.9 184.9,232.3 185.9,231.7 186.9,231.2 187.8,231.0 188.8,230.4 189.8,229.3 190.7,228.1 191.7,227.0 192.7,226.2 193.6,225.4 194.6,224.1 195.6,222.9 196.6,221.1 197.5,218.7 198.5,216.7 199.5,214.6 200.4,211.8 201.4,208.8 202.4,205.8 203.3,202.8 204.3,200.0 205.3,196.7 206.3,192.6 207.2,189.1 208.2,186.3 209.2,183.5 210.1,180.9 211.1,178.0 212.1,174.8 213.0,172.1 214.0,169.8 215.0,167.3 216.0,164.8 216.9,162.7 217.9,161.1 218.9,159.7 219.8,157.5 220.8,155.8 221.8,155.6 222.8,155.2 223.7,154.3 224.7,154.2 225.7,155.0 226.6,156.0 227.6,156.6 228.6,157.7 229.5,158.6 230.5,159.2 231.5,160.3 232.5,160.8 233.4,161.5 234.4,163.3 235.4,165.4 236.3,167.3 237.3,168.8 238.3,170.1 239.2,171.3 240.2,172.5 241.2,173.6 242.2,174.6 243.1,176.1 244.1,177.6 245.1,178.5 246.0,179.2 247.0,180.2 248.0,181.2 248.9,182.6 249.9,184.2 250.9,185.7 251.9,186.9 252.8,187.5 253.8,188.7 254.8,190.7 255.7,192.2 256.7,193.4 257.7,194.8 258.7,195.7 259.6,196.4 260.6,197.6 261.6,198.9 262.5,200.0 263.5,201.3 264.5,202.5 265.4,203.7 266.4,204.9 267.4,205.8 268.4,206.7 269.3,207.5 270.3,208.4 271.3,209.4 272.2,210.6 273.2,211.7 274.2,212.8 275.1,213.8 276.1,214.3 277.1,215.0 278.1,216.0 279.0,216.7 280.0,217.5 281.0,218.2 281.9,218.8 282.9,219.7 283.9,220.5 284.9,220.8 285.8,221.4 286.8,222.4 287.8,223.4 288.7,224.1 289.7,224.5 290.7,224.8 291.6,225.4 292.6,226.1 293.6,226.4 294.6,226.6 295.5,227.2 296.5,227.7 297.5,227.8 298.4,228.2 299.4,228.8 300.4,229.4 301.3,230.0 302.3,230.3 303.3,230.4 304.3,230.6 305.2,230.8 306.2,231.0 307.2,231.4 308.1,231.9 309.1,232.5 310.1,233.0 311.0,233.1 312.0,233.3 313.0,233.6 314.0,233.8 314.9,234.3 315.9,234.5 316.9,234.6 317.8,234.8 318.8,235.1 319.8,235.3 320.8,235.6 321.7,236.0 322.7,236.0 323.7,236.1 324.6,236.4 325.6,236.6 326.6,236.6 327.5,237.0 328.5,237.4 329.5,237.5 330.5,237.8 331.4,238.2 332.4,238.4 333.4,238.5 334.3,238.7 335.3,238.9 336.3,239.0 337.2,239.4 338.2,239.6 339.2,239.5 340.2,239.4 341.1,239.7 342.1,240.0 343.1,240.0 344.0,239.9 345.0,240.1 346.0,240.5 347.0,240.6 347.9,240.8 348.9,241.1 349.9,241.0 350.8,240.8 351.8,241.0 352.8,241.1" fill="none" stroke="#00FFFF" stroke-width="2.3" stroke-linejoin="round" stroke-linecap="round"/>
<polyline points="52.0,231.6 52.9,233.1 53.9,234.5 54.9,235.8 55.9,236.3 56.8,236.5 57.8,237.1 58.8,237.3 59.7,236.7 60.7,236.6 61.7,237.3 62.7,237.6 63.6,237.0 64.6,236.0 65.6,234.5 66.5,233.0 67.5,231.8 68.5,230.5 69.4,228.9 70.4,227.3 71.4,225.6 72.4,223.4 73.3,221.1 74.3,219.8 75.3,219.2 76.2,218.1 77.2,217.1 78.2,216.4 79.1,215.5 80.1,214.5 81.1,213.7 82.1,213.6 83.0,214.0 84.0,214.5 85.0,214.7 85.9,214.9 86.9,215.2 87.9,215.8 88.9,216.7 89.8,217.4 90.8,218.3 91.8,219.5 92.7,220.7 93.7,220.8 94.7,220.1 95.6,219.9 96.6,220.2 97.6,220.5 98.6,220.7 99.5,221.0 100.5,220.8 101.5,220.5 102.4,220.6 103.4,221.1 104.4,221.2 105.3,221.1 106.3,221.4 107.3,221.5 108.3,221.2 109.2,221.5 110.2,221.8 111.2,221.6 112.1,221.9 113.1,222.5 114.1,223.0 115.0,223.6 116.0,224.2 117.0,224.2 118.0,223.8 118.9,223.8 119.9,223.6 120.9,223.6 121.8,223.8 122.8,223.6 123.8,223.5 124.8,223.4 125.7,223.5 126.7,224.0 127.7,224.6 128.6,225.2 129.6,225.5 130.6,226.1 131.5,227.0 132.5,227.4 133.5,227.7 134.5,227.9 135.4,228.3 136.4,228.8 137.4,229.1 138.3,229.3 139.3,229.9 140.3,229.8 141.2,229.9 142.2,230.8 143.2,230.9 144.2,230.7 145.1,230.8 146.1,230.9 147.1,231.4 148.0,231.2 149.0,230.8 150.0,231.4 150.9,231.9 151.9,232.3 152.9,232.4 153.9,232.6 154.8,232.9 155.8,232.9 156.8,232.9 157.7,233.3 158.7,233.5 159.7,233.6 160.7,233.7 161.6,233.5 162.6,233.8 163.6,234.4 164.5,234.4 165.5,234.5 166.5,234.6 167.4,234.6 168.4,234.6 169.4,234.5 170.4,234.6 171.3,234.5 172.3,234.5 173.3,234.5 174.2,234.6 175.2,234.7 176.2,234.5 177.1,234.1 178.1,233.6 179.1,233.2 180.1,233.0 181.0,233.0 182.0,232.8 183.0,232.3 183.9,231.7 184.9,231.0 185.9,230.5 186.9,230.2 187.8,229.4 188.8,228.3 189.8,227.5 190.7,226.5 191.7,225.4 192.7,224.3 193.6,223.1 194.6,221.7 195.6,220.0 196.6,217.9 197.5,215.8 198.5,213.5 199.5,210.5 200.4,207.2 201.4,203.7 202.4,200.3 203.3,196.7 204.3,192.7 205.3,188.6 206.3,184.3 207.2,180.2 208.2,176.3 209.2,172.3 210.1,169.0 211.1,166.0 212.1,163.0 213.0,159.8 214.0,156.4 215.0,153.6 216.0,151.3 216.9,148.3 217.9,145.5 218.9,143.4 219.8,142.1 220.8,141.5 221.8,140.1 222.8,138.3 223.7,138.4 224.7,139.0 225.7,139.0 226.6,139.9 227.6,141.6 228.6,143.0 229.5,143.5 230.5,143.9 231.5,145.1 232.5,146.7 233.4,147.9 234.4,149.8 235.4,152.1 236.3,153.6 237.3,155.0 238.3,156.6 239.2,157.8 240.2,158.9 241.2,160.5 242.2,162.2 243.1,163.0 244.1,163.9 245.1,166.2 246.0,168.1 247.0,168.9 248.0,170.0 248.9,171.8 249.9,173.6 250.9,175.0 251.9,176.8 252.8,178.6 253.8,179.9 254.8,180.9 255.7,182.0 256.7,183.4 257.7,184.9 258.7,186.2 259.6,187.6 260.6,189.2 261.6,191.2 262.5,192.6 263.5,193.7 264.5,195.2 265.4,196.5 266.4,197.7 267.4,199.0 268.4,200.0 269.3,201.2 270.3,202.7 271.3,203.3 272.2,203.9 273.2,205.4 274.2,206.7 275.1,207.4 276.1,208.5 277.1,209.9 278.1,211.0 279.0,211.8 280.0,212.6 281.0,213.4 281.9,214.3 282.9,215.3 283.9,216.2 284.9,217.1 285.8,217.9 286.8,218.5 287.8,219.3 288.7,220.0 289.7,220.4 290.7,221.3 291.6,222.1 292.6,222.6 293.6,223.1 294.6,223.7 295.5,224.2 296.5,224.7 297.5,225.2 298.4,225.8 299.4,226.0 300.4,226.4 301.3,227.2 302.3,227.5 303.3,227.8 304.3,228.4 305.2,228.7 306.2,228.6 307.2,228.9 308.1,229.3 309.1,229.7 310.1,230.3 311.0,230.6 312.0,230.8 313.0,231.1 314.0,231.6 314.9,232.0 315.9,232.3 316.9,232.4 317.8,232.9 318.8,233.6 319.8,233.9 320.8,234.1 321.7,234.5 322.7,234.9 323.7,235.2 324.6,235.4 325.6,235.4 326.6,235.7 327.5,235.9 328.5,236.1 329.5,236.3 330.5,236.3 331.4,236.7 332.4,237.3 333.4,237.9 334.3,238.4 335.3,238.3 336.3,238.1 337.2,238.3 338.2,238.6 339.2,238.7 340.2,238.8 341.1,239.3 342.1,239.7 343.1,239.7 344.0,239.6 345.0,239.7 346.0,239.9 347.0,240.1 347.9,240.0 348.9,240.0 349.9,240.1 350.8,240.1 351.8,240.2 352.8,240.4" fill="none" stroke="#808000" stroke-width="2.3" stroke-linejoin="round" stroke-linecap="round"/>
<polyline points="52.0,236.9 52.9,237.3 53.9,237.0 54.9,237.2 55.9,237.7 56.8,238.0 57.8,238.0 58.8,238.0 59.7,238.1 60.7,237.8 61.7,237.2 62.7,237.3 63.6,237.8 64.6,237.6 65.6,236.5 66.5,235.0 67.5,233.9 68.5,232.9 69.4,231.8 70.4,230.6 71.4,229.2 72.4,227.3 73.3,225.5 74.3,224.1 75.3,223.3 76.2,222.3 77.2,221.1 78.2,220.7 79.1,220.5 80.1,219.7 81.1,218.7 82.1,218.1 83.0,217.8 84.0,217.4 85.0,217.3 85.9,217.6 86.9,218.0 87.9,218.2 88.9,218.2 89.8,218.4 90.8,218.8 91.8,219.2 92.7,219.7 93.7,220.2 94.7,219.9 95.6,219.2 96.6,218.7 97.6,218.6 98.6,218.7 99.5,218.5 100.5,218.3 101.5,218.6 102.4,219.2 103.4,219.4 104.4,219.6 105.3,219.8 106.3,219.6 107.3,219.6 108.3,219.7 109.2,219.7 110.2,220.2 111.2,220.8 112.1,221.1 113.1,221.4 114.1,221.4 115.0,221.4 116.0,221.3 117.0,221.5 118.0,221.8 118.9,222.2 119.9,222.4 120.9,222.2 121.8,222.0 122.8,221.8 123.8,221.8 124.8,221.9 125.7,222.2 126.7,222.7 127.7,223.3 128.6,223.7 129.6,224.0 130.6,224.7 131.5,225.7 132.5,225.7 133.5,225.7 134.5,226.6 135.4,227.5 136.4,228.1 137.4,228.3 138.3,228.0 139.3,228.2 140.3,228.4 141.2,228.0 142.2,228.4 143.2,229.3 144.2,229.5 145.1,229.6 146.1,230.0 147.1,230.3 148.0,230.4 149.0,230.4 150.0,230.7 150.9,231.0 151.9,231.0 152.9,231.2 153.9,231.6 154.8,231.6 155.8,231.6 156.8,232.0 157.7,232.6 158.7,233.0 159.7,233.2 160.7,233.3 161.6,233.2 162.6,233.5 163.6,234.0 164.5,233.8 165.5,233.5 166.5,233.9 167.4,234.1 168.4,234.0 169.4,234.3 170.4,234.5 171.3,234.5 172.3,234.2 173.3,233.8 174.2,233.7 175.2,233.9 176.2,234.0 177.1,233.9 178.1,233.6 179.1,233.3 180.1,233.0 181.0,232.4 182.0,231.8 183.0,231.3 183.9,230.8 184.9,230.4 185.9,229.9 186.9,228.8 187.8,227.5 188.8,226.5 189.8,225.6 190.7,224.4 191.7,223.0 192.7,221.4 193.6,219.9 194.6,218.2 195.6,216.1 196.6,214.1 197.5,211.8 198.5,208.8 199.5,205.2 200.4,201.4 201.4,197.4 202.4,192.9 203.3,188.0 204.3,183.6 205.3,178.9 206.3,173.5 207.2,168.7 208.2,165.0 209.2,161.6 210.1,157.2 211.1,152.6 212.1,148.5 213.0,144.8 214.0,141.7 215.0,138.2 216.0,134.6 216.9,131.2 217.9,128.2 218.9,125.9 219.8,124.5 220.8,123.5 221.8,122.1 222.8,121.0 223.7,120.0 224.7,118.9 225.7,118.9 226.6,120.4 227.6,122.0 228.6,123.2 229.5,124.1 230.5,125.0 231.5,126.7 232.5,128.9 233.4,131.5 234.4,134.0 235.4,135.8 236.3,137.1 237.3,138.3 238.3,140.1 239.2,142.2 240.2,143.4 241.2,144.7 242.2,147.0 243.1,149.0 244.1,150.5 245.1,152.2 246.0,153.8 247.0,154.9 248.0,156.7 248.9,159.4 249.9,161.2 250.9,162.6 251.9,164.5 252.8,166.4 253.8,167.9 254.8,169.4 255.7,171.4 256.7,173.1 257.7,174.7 258.7,176.3 259.6,177.8 260.6,179.3 261.6,181.0 262.5,182.8 263.5,184.7 264.5,186.6 265.4,188.3 266.4,189.7 267.4,191.0 268.4,192.6 269.3,194.0 270.3,195.0 271.3,196.4 272.2,197.9 273.2,198.7 274.2,200.0 275.1,201.4 276.1,202.4 277.1,203.8 278.1,204.9 279.0,205.8 280.0,207.2 281.0,208.3 281.9,209.2 282.9,210.4 283.9,211.3 284.9,211.8 285.8,212.5 286.8,213.9 287.8,214.9 288.7,215.5 289.7,216.6 290.7,217.5 291.6,218.1 292.6,218.7 293.6,219.3 294.6,219.8 295.5,220.4 296.5,221.1 297.5,221.9 298.4,222.7 299.4,223.1 300.4,223.5 301.3,224.0 302.3,224.5 303.3,224.9 304.3,224.9 305.2,225.2 306.2,226.0 307.2,226.6 308.1,227.0 309.1,227.3 310.1,227.8 311.0,228.3 312.0,228.8 313.0,229.3 314.0,229.7 314.9,230.1 315.9,230.4 316.9,230.8 317.8,231.0 318.8,231.4 319.8,231.8 320.8,232.2 321.7,232.7 322.7,233.0 323.7,233.4 324.6,233.8 325.6,234.0 326.6,234.5 327.5,235.0 328.5,235.4 329.5,235.6 330.5,235.9 331.4,236.4 332.4,236.8 333.4,236.8 334.3,236.8 335.3,237.2 336.3,237.5 337.2,237.8 338.2,238.2 339.2,238.2 340.2,238.2 341.1,238.3 342.1,238.5 343.1,238.8 344.0,239.0 345.0,239.1 346.0,239.1 347.0,239.1 347.9,239.3 348.9,239.7 349.9,239.9 350.8,239.9 351.8,239.9 352.8,240.1" fill="none" stroke="#8000FF" stroke-width="2.3" stroke-linejoin="round" stroke-linecap="round"/>
<polyline points="52.0,236.5 52.9,237.1 53.9,237.2 54.9,237.5 55.9,238.2 56.8,238.1 57.8,238.0 58.8,238.5 59.7,238.5 60.7,238.0 61.7,237.9 62.7,238.6 63.6,238.8 64.6,237.8 65.6,236.7 66.5,236.4 67.5,235.7 68.5,233.9 69.4,232.4 70.4,231.1 71.4,229.9 72.4,228.8 73.3,227.2 74.3,225.2 75.3,224.1 76.2,223.9 77.2,222.8 78.2,221.3 79.1,221.1 80.1,220.9 81.1,220.0 82.1,219.2 83.0,218.7 84.0,218.2 85.0,217.6 85.9,216.9 86.9,216.2 87.9,215.7 88.9,215.1 89.8,214.3 90.8,213.5 91.8,213.2 92.7,213.1 93.7,212.5 94.7,211.8 95.6,211.2 96.6,210.7 97.6,210.1 98.6,210.0 99.5,210.4 100.5,210.4 101.5,210.1 102.4,210.2 103.4,211.0 104.4,211.9 105.3,212.1 106.3,211.5 107.3,211.1 108.3,211.7 109.2,212.3 110.2,212.3 111.2,212.6 112.1,212.9 113.1,213.4 114.1,214.2 115.0,215.0 116.0,215.6 117.0,215.8 118.0,215.5 118.9,214.8 119.9,214.3 120.9,214.0 121.8,214.3 122.8,214.7 123.8,215.0 124.8,215.4 125.7,215.6 126.7,216.2 127.7,217.1 128.6,217.6 129.6,218.2 130.6,218.9 131.5,219.4 132.5,220.0 133.5,221.2 134.5,222.4 135.4,223.1 136.4,223.3 137.4,223.7 138.3,224.3 139.3,224.1 140.3,224.3 141.2,225.0 142.2,225.5 143.2,225.8 144.2,226.1 145.1,226.7 146.1,226.6 147.1,226.4 148.0,226.9 149.0,227.4 150.0,228.0 150.9,228.5 151.9,228.5 152.9,228.7 153.9,229.1 154.8,229.0 155.8,228.8 156.8,229.4 157.7,230.3 158.7,230.9 159.7,230.8 160.7,230.4 161.6,230.3 162.6,230.8 163.6,231.5 164.5,231.9 165.5,231.7 166.5,231.9 167.4,232.2 168.4,232.1 169.4,232.0 170.4,232.2 171.3,232.6 172.3,232.7 173.3,232.3 174.2,232.0 175.2,231.9 176.2,231.8 177.1,231.4 178.1,230.9 179.1,230.5 180.1,230.2 181.0,229.8 182.0,229.1 183.0,228.3 183.9,227.6 184.9,226.8 185.9,225.5 186.9,224.0 187.8,222.6 188.8,221.2 189.8,219.9 190.7,218.5 191.7,216.7 192.7,214.3 193.6,211.5 194.6,208.8 195.6,205.9 196.6,202.6 197.5,199.1 198.5,195.0 199.5,190.1 200.4,184.5 201.4,178.6 202.4,172.3 203.3,165.8 204.3,159.3 205.3,152.5 206.3,145.5 207.2,138.8 208.2,133.0 209.2,126.1 210.1,119.0 211.1,114.2 212.1,109.4 213.0,103.3 214.0,97.3 215.0,92.5 216.0,87.8 216.9,83.5 217.9,78.7 218.9,73.8 219.8,71.7 220.8,70.6 221.8,68.5 222.8,66.6 223.7,65.5 224.7,65.4 225.7,66.7 226.6,68.2 227.6,69.0 228.6,70.6 229.5,73.3 230.5,76.0 231.5,78.2 232.5,80.3 233.4,83.0 234.4,85.9 235.4,88.0 236.3,90.5 237.3,93.7 238.3,96.3 239.2,98.2 240.2,100.7 241.2,103.9 242.2,106.3 243.1,108.5 244.1,110.3 245.1,112.1 246.0,114.9 247.0,117.7 248.0,119.9 248.9,121.6 249.9,124.0 250.9,127.4 251.9,131.0 252.8,133.5 253.8,135.2 254.8,137.8 255.7,140.4 256.7,142.9 257.7,145.4 258.7,147.4 259.6,149.5 260.6,152.1 261.6,154.6 262.5,156.9 263.5,159.2 264.5,161.1 265.4,163.1 266.4,165.4 267.4,167.8 268.4,170.5 269.3,173.0 270.3,174.5 271.3,176.1 272.2,178.2 273.2,180.3 274.2,182.4 275.1,183.8 276.1,184.9 277.1,186.5 278.1,188.7 279.0,190.4 280.0,191.6 281.0,193.0 281.9,194.2 282.9,195.9 283.9,197.5 284.9,198.4 285.8,199.7 286.8,201.3 287.8,202.4 288.7,203.5 289.7,204.7 290.7,206.3 291.6,207.7 292.6,208.3 293.6,208.7 294.6,209.4 295.5,210.3 296.5,211.6 297.5,212.8 298.4,213.7 299.4,214.4 300.4,215.2 301.3,216.0 302.3,216.8 303.3,217.1 304.3,217.2 305.2,217.5 306.2,218.4 307.2,219.4 308.1,220.1 309.1,220.9 310.1,221.7 311.0,222.1 312.0,222.3 313.0,222.9 314.0,223.8 314.9,224.3 315.9,224.6 316.9,225.1 317.8,225.9 318.8,226.7 319.8,227.2 320.8,227.5 321.7,228.0 322.7,228.8 323.7,229.3 324.6,229.6 325.6,230.1 326.6,230.5 327.5,230.9 328.5,231.3 329.5,231.6 330.5,232.2 331.4,232.8 332.4,233.5 333.4,233.9 334.3,233.9 335.3,234.0 336.3,234.3 337.2,234.6 338.2,235.2 339.2,235.6 340.2,235.9 341.1,236.3 342.1,236.7 343.1,237.0 344.0,237.1 345.0,237.4 346.0,237.7 347.0,237.9 347.9,238.0 348.9,238.2 349.9,238.4 350.8,238.7 351.8,238.7 352.8,238.5" fill="none" stroke="#00FF00" stroke-width="2.3" stroke-linejoin="round" stroke-linecap="round"/>
<polyline points="52.0,236.4 52.9,237.0 53.9,237.7 54.9,238.2 55.9,238.0 56.8,237.9 57.8,238.2 58.8,238.3 59.7,238.5 60.7,238.6 61.7,238.5 62.7,238.2 63.6,238.0 64.6,238.1 65.6,237.1 66.5,236.3 67.5,236.1 68.5,235.0 69.4,233.3 70.4,231.9 71.4,230.4 72.4,229.0 73.3,228.1 74.3,227.6 75.3,226.5 76.2,224.9 77.2,223.8 78.2,222.9 79.1,222.4 80.1,221.8 81.1,220.6 82.1,219.8 83.0,219.8 84.0,219.8 85.0,219.4 85.9,218.7 86.9,218.1 87.9,217.5 88.9,216.6 89.8,216.0 90.8,215.7 91.8,215.3 92.7,214.7 93.7,214.8 94.7,215.2 95.6,214.5 96.6,213.3 97.6,212.8 98.6,212.8 99.5,212.9 100.5,212.7 101.5,212.5 102.4,212.8 103.4,213.3 104.4,213.3 105.3,213.3 106.3,213.8 107.3,214.2 108.3,214.1 109.2,214.2 110.2,214.3 111.2,214.2 112.1,214.2 113.1,214.8 114.1,215.8 115.0,216.5 116.0,216.6 117.0,216.1 118.0,215.8 118.9,215.9 119.9,216.5 120.9,216.7 121.8,216.0 122.8,216.1 123.8,216.7 124.8,217.0 125.7,217.2 126.7,217.9 127.7,218.7 128.6,219.0 129.6,219.7 130.6,220.3 131.5,220.6 132.5,221.5 133.5,222.8 134.5,223.7 135.4,223.7 136.4,223.7 137.4,224.5 138.3,225.2 139.3,225.7 140.3,225.9 141.2,225.8 142.2,225.7 143.2,226.1 144.2,226.8 145.1,227.1 146.1,227.3 147.1,227.9 148.0,227.9 149.0,227.7 150.0,228.1 150.9,228.6 151.9,229.1 152.9,229.7 153.9,230.1 154.8,229.9 155.8,229.4 156.8,229.3 157.7,229.7 158.7,230.3 159.7,230.8 160.7,231.3 161.6,231.3 162.6,231.5 163.6,231.7 164.5,231.9 165.5,232.5 166.5,233.1 167.4,233.3 168.4,233.2 169.4,233.2 170.4,232.9 171.3,232.8 172.3,232.7 173.3,232.4 174.2,232.3 175.2,232.3 176.2,232.1 177.1,231.8 178.1,231.5 179.1,231.2 180.1,230.9 181.0,230.3 182.0,229.4 183.0,228.6 183.9,227.8 184.9,226.8 185.9,225.4 186.9,223.9 187.8,222.6 188.8,221.2 189.8,219.9 190.7,218.2 191.7,216.2 192.7,214.0 193.6,211.4 194.6,208.5 195.6,205.8 196.6,202.4 197.5,197.8 198.5,193.2 199.5,189.4 200.4,185.0 201.4,178.7 202.4,170.5 203.3,160.9 204.3,150.8 205.3,141.8 206.3,134.2 207.2,126.7 208.2,119.9 209.2,112.9 210.1,105.4 211.1,98.8 212.1,93.4 213.0,88.0 214.0,81.7 215.0,74.9 216.0,68.0 216.9,62.6 217.9,58.0 218.9,53.6 219.8,50.2 220.8,46.8 221.8,43.9 222.8,42.2 223.7,41.5 224.7,42.2 225.7,42.9 226.6,43.8 227.6,47.0 228.6,50.0 229.5,51.8 230.5,54.5 231.5,56.9 232.5,59.3 233.4,62.7 234.4,66.0 235.4,69.1 236.3,71.3 237.3,74.2 238.3,78.0 239.2,81.2 240.2,83.7 241.2,85.5 242.2,87.9 243.1,91.0 244.1,93.7 245.1,97.0 246.0,100.6 247.0,102.9 248.0,104.6 248.9,107.7 249.9,111.4 250.9,114.3 251.9,117.4 252.8,120.9 253.8,122.9 254.8,124.7 255.7,128.1 256.7,131.0 257.7,133.5 258.7,136.3 259.6,138.6 260.6,140.7 261.6,143.4 262.5,146.6 263.5,149.7 264.5,152.5 265.4,154.8 266.4,156.8 267.4,159.4 268.4,162.6 269.3,165.1 270.3,166.5 271.3,168.3 272.2,171.2 273.2,173.9 274.2,175.4 275.1,177.0 276.1,179.2 277.1,181.1 278.1,182.5 279.0,184.0 280.0,185.9 281.0,187.9 281.9,189.2 282.9,190.3 283.9,191.8 284.9,193.9 285.8,195.8 286.8,197.0 287.8,198.2 288.7,199.5 289.7,200.7 290.7,202.0 291.6,203.3 292.6,204.4 293.6,205.6 294.6,206.9 295.5,207.5 296.5,208.1 297.5,209.4 298.4,210.3 299.4,210.8 300.4,211.7 301.3,212.9 302.3,213.5 303.3,213.8 304.3,214.1 305.2,214.8 306.2,215.6 307.2,216.5 308.1,217.4 309.1,218.1 310.1,218.8 311.0,219.3 312.0,219.8 313.0,220.6 314.0,221.4 314.9,222.0 315.9,222.8 316.9,223.7 317.8,224.3 318.8,224.9 319.8,225.3 320.8,225.7 321.7,226.3 322.7,226.9 323.7,227.6 324.6,228.3 325.6,229.0 326.6,229.5 327.5,230.1 328.5,230.6 329.5,231.0 330.5,231.6 331.4,232.3 332.4,232.8 333.4,232.9 334.3,233.1 335.3,233.4 336.3,233.7 337.2,234.0 338.2,234.5 339.2,235.1 340.2,235.6 341.1,235.9 342.1,236.1 343.1,236.2 344.0,236.4 345.0,236.8 346.0,237.0 347.0,237.1 347.9,237.4 348.9,237.6 349.9,237.9 350.8,238.3 351.8,238.5 352.8,238.5" fill="none" stroke="#00FFFF" stroke-width="2.3" stroke-linejoin="round" stroke-linecap="round"/>
<polyline points="52.0,236.1 52.9,236.8 53.9,237.0 54.9,237.0 55.9,237.7 56.8,238.0 57.8,238.1 58.8,238.4 59.7,238.0 60.7,237.5 61.7,237.6 62.7,237.9 63.6,238.0 64.6,237.7 65.6,236.8 66.5,236.0 67.5,235.0 68.5,233.5 69.4,231.9 70.4,230.5 71.4,229.5 72.4,228.3 73.3,226.0 74.3,223.8 75.3,222.8 76.2,222.3 77.2,221.6 78.2,220.8 79.1,220.0 80.1,219.2 81.1,218.4 82.1,217.4 83.0,217.0 84.0,217.1 85.0,216.4 85.9,215.8 86.9,215.3 87.9,214.4 88.9,213.3 89.8,212.8 90.8,212.6 91.8,211.5 92.7,210.5 93.7,210.4 94.7,210.2 95.6,210.2 96.6,210.0 97.6,209.3 98.6,208.7 99.5,208.0 100.5,207.5 101.5,207.9 102.4,208.2 103.4,208.6 104.4,209.6 105.3,210.2 106.3,210.1 107.3,210.1 108.3,210.1 109.2,210.1 110.2,209.9 111.2,210.0 112.1,210.9 113.1,211.7 114.1,212.0 115.0,212.5 116.0,213.2 117.0,213.2 118.0,212.9 118.9,212.6 119.9,212.2 120.9,212.3 121.8,212.9 122.8,213.4 123.8,213.7 124.8,214.0 125.7,214.4 126.7,214.6 127.7,215.0 128.6,215.7 129.6,216.9 130.6,217.9 131.5,218.4 132.5,219.1 133.5,219.7 134.5,220.3 135.4,220.7 136.4,221.0 137.4,221.5 138.3,222.3 139.3,223.1 140.3,223.4 141.2,223.8 142.2,224.3 143.2,224.6 144.2,224.7 145.1,225.1 146.1,226.1 147.1,226.5 148.0,226.5 149.0,226.6 150.0,227.0 150.9,227.4 151.9,227.7 152.9,227.7 153.9,227.9 154.8,228.5 155.8,229.0 156.8,229.4 157.7,229.2 158.7,229.3 159.7,229.6 160.7,230.0 161.6,230.9 162.6,231.5 163.6,231.4 164.5,231.3 165.5,231.2 166.5,231.4 167.4,231.5 168.4,231.7 169.4,232.2 170.4,232.4 171.3,232.2 172.3,231.9 173.3,232.2 174.2,231.9 175.2,231.4 176.2,231.4 177.1,231.4 178.1,230.9 179.1,230.2 180.1,229.7 181.0,229.3 182.0,228.6 183.0,227.7 183.9,226.8 184.9,225.8 185.9,225.1 186.9,224.0 187.8,222.2 188.8,220.3 189.8,218.9 190.7,217.0 191.7,214.9 192.7,213.0 193.6,210.6 194.6,208.0 195.6,205.0 196.6,201.0 197.5,196.7 198.5,192.9 199.5,189.3 200.4,184.6 201.4,177.5 202.4,168.5 203.3,158.9 204.3,149.5 205.3,140.4 206.3,131.9 207.2,124.3 208.2,116.9 209.2,109.8 210.1,103.8 211.1,97.4 212.1,90.1 213.0,83.4 214.0,77.9 215.0,73.4 216.0,68.4 216.9,62.3 217.9,55.0 218.9,48.4 219.8,44.5 220.8,42.0 221.8,39.9 222.8,38.2 223.7,37.5 224.7,37.6 225.7,39.5 226.6,42.1 227.6,42.9 228.6,44.0 229.5,47.2 230.5,50.5 231.5,53.6 232.5,56.2 233.4,58.8 234.4,62.8 235.4,67.9 236.3,71.9 237.3,74.2 238.3,77.0 239.2,79.1 240.2,80.0 241.2,82.6 242.2,86.0 243.1,87.8 244.1,90.3 245.1,93.6 246.0,96.8 247.0,100.6 248.0,104.2 248.9,107.3 249.9,109.6 250.9,112.0 251.9,115.6 252.8,118.9 253.8,121.4 254.8,123.7 255.7,126.2 256.7,128.8 257.7,132.0 258.7,135.0 259.6,137.1 260.6,139.5 261.6,142.3 262.5,144.5 263.5,147.2 264.5,150.7 265.4,153.3 266.4,155.5 267.4,158.5 268.4,161.3 269.3,163.3 270.3,164.9 271.3,166.9 272.2,169.2 273.2,171.2 274.2,172.9 275.1,175.3 276.1,178.0 277.1,179.8 278.1,181.3 279.0,183.1 280.0,185.1 281.0,187.0 281.9,188.8 282.9,190.4 283.9,191.7 284.9,192.9 285.8,194.4 286.8,196.1 287.8,197.7 288.7,199.2 289.7,200.4 290.7,201.5 291.6,202.7 292.6,204.0 293.6,205.2 294.6,206.3 295.5,207.4 296.5,208.2 297.5,208.8 298.4,209.4 299.4,210.2 300.4,211.0 301.3,211.7 302.3,212.4 303.3,213.1 304.3,213.8 305.2,214.6 306.2,215.4 307.2,216.1 308.1,216.8 309.1,217.3 310.1,217.8 311.0,218.6 312.0,219.8 313.0,220.6 314.0,221.2 314.9,221.6 315.9,222.2 316.9,223.0 317.8,223.6 318.8,224.1 319.8,224.9 320.8,225.3 321.7,225.6 322.7,226.1 323.7,227.0 324.6,227.8 325.6,228.6 326.6,229.0 327.5,229.5 328.5,230.2 329.5,230.8 330.5,231.3 331.4,231.7 332.4,232.0 333.4,232.3 334.3,232.9 335.3,233.7 336.3,234.2 337.2,234.6 338.2,234.7 339.2,234.8 340.2,235.1 341.1,235.5 342.1,235.9 343.1,236.3 344.0,236.8 345.0,237.0 346.0,237.0 347.0,237.1 347.9,237.4 348.9,237.4 349.9,237.5 350.8,237.9 351.8,238.3 352.8,238.5" fill="none" stroke="#FF00FF" stroke-width="2.3" stroke-linejoin="round" stroke-linecap="round"/>
<polyline points="52.0,236.0 52.9,236.6 53.9,236.9 54.9,237.0 55.9,237.2 56.8,237.6 57.8,237.9 58.8,238.0 59.7,238.2 60.7,238.4 61.7,238.2 62.7,238.2 63.6,238.1 64.6,237.6 65.6,237.0 66.5,236.2 67.5,235.0 68.5,233.9 69.4,232.6 70.4,231.0 71.4,229.3 72.4,227.3 73.3,225.3 74.3,223.5 75.3,221.8 76.2,220.5 77.2,219.8 78.2,219.1 79.1,218.3 80.1,217.9 81.1,217.1 82.1,215.8 83.0,215.2 84.0,214.7 85.0,213.9 85.9,213.4 86.9,213.2 87.9,212.6 88.9,211.9 89.8,211.3 90.8,210.5 91.8,209.6 92.7,209.3 93.7,209.3 94.7,208.9 95.6,208.4 96.6,207.7 97.6,207.0 98.6,207.1 99.5,207.4 100.5,206.9 101.5,206.3 102.4,206.2 103.4,206.6 104.4,207.3 105.3,207.5 106.3,207.7 107.3,207.8 108.3,207.8 109.2,208.2 110.2,208.8 111.2,209.3 112.1,210.1 113.1,210.5 114.1,210.5 115.0,211.1 116.0,212.0 117.0,212.0 118.0,211.3 118.9,210.5 119.9,210.3 120.9,210.9 121.8,211.6 122.8,211.5 123.8,211.4 124.8,211.8 125.7,212.4 126.7,212.8 127.7,212.9 128.6,213.7 129.6,215.2 130.6,216.1 131.5,216.8 132.5,217.8 133.5,218.2 134.5,218.8 135.4,220.0 136.4,220.6 137.4,221.0 138.3,221.3 139.3,221.4 140.3,221.6 141.2,222.3 142.2,222.9 143.2,223.3 144.2,224.0 145.1,224.3 146.1,224.3 147.1,225.2 148.0,225.9 149.0,226.2 150.0,226.9 150.9,227.3 151.9,227.0 152.9,227.4 153.9,227.9 154.8,228.1 155.8,228.6 156.8,228.8 157.7,228.3 158.7,227.9 159.7,228.4 160.7,229.2 161.6,229.9 162.6,230.3 163.6,230.3 164.5,230.3 165.5,230.5 166.5,230.9 167.4,231.2 168.4,231.6 169.4,231.8 170.4,231.8 171.3,231.9 172.3,231.9 173.3,231.7 174.2,231.5 175.2,231.2 176.2,230.9 177.1,230.7 178.1,230.4 179.1,229.9 180.1,229.5 181.0,229.1 182.0,228.4 183.0,227.8 183.9,227.0 184.9,225.8 185.9,224.5 186.9,223.0 187.8,221.8 188.8,220.7 189.8,218.7 190.7,216.3 191.7,214.2 192.7,212.0 193.6,209.9 194.6,207.7 195.6,204.5 196.6,200.2 197.5,195.8 198.5,191.8 199.5,187.8 200.4,183.1 201.4,176.6 202.4,167.2 203.3,156.1 204.3,145.9 205.3,137.3 206.3,129.3 207.2,122.3 208.2,116.0 209.2,108.7 210.1,100.7 211.1,93.0 212.1,85.9 213.0,80.0 214.0,75.1 215.0,69.2 216.0,62.1 216.9,56.1 217.9,51.3 218.9,46.6 219.8,41.1 220.8,37.4 221.8,36.3 222.8,34.7 223.7,33.0 224.7,32.9 225.7,33.8 226.6,35.1 227.6,38.2 228.6,41.6 229.5,45.0 230.5,48.6 231.5,50.4 232.5,51.8 233.4,55.4 234.4,59.5 235.4,63.4 236.3,67.2 237.3,69.5 238.3,71.2 239.2,74.0 240.2,76.9 241.2,78.6 242.2,80.9 243.1,84.3 244.1,87.8 245.1,91.9 246.0,95.1 247.0,97.0 248.0,99.7 248.9,103.2 249.9,106.6 250.9,109.4 251.9,111.5 252.8,114.2 253.8,118.3 254.8,121.7 255.7,123.6 256.7,125.9 257.7,128.8 258.7,131.1 259.6,133.4 260.6,136.5 261.6,140.1 262.5,143.8 263.5,146.9 264.5,149.4 265.4,151.8 266.4,154.2 267.4,156.5 268.4,158.6 269.3,161.4 270.3,163.8 271.3,165.9 272.2,168.1 273.2,169.9 274.2,171.9 275.1,173.9 276.1,175.7 277.1,177.9 278.1,180.3 279.0,182.6 280.0,184.6 281.0,186.1 281.9,187.4 282.9,188.8 283.9,190.5 284.9,192.6 285.8,194.3 286.8,195.3 287.8,196.3 288.7,197.8 289.7,199.6 290.7,200.8 291.6,201.8 292.6,203.0 293.6,204.4 294.6,205.5 295.5,206.1 296.5,206.8 297.5,207.6 298.4,208.5 299.4,209.6 300.4,210.4 301.3,211.0 302.3,211.8 303.3,212.7 304.3,213.4 305.2,214.1 306.2,214.5 307.2,215.2 308.1,215.9 309.1,216.7 310.1,217.8 311.0,218.4 312.0,218.8 313.0,219.9 314.0,220.8 314.9,221.0 315.9,221.7 316.9,222.6 317.8,223.2 318.8,224.0 319.8,224.8 320.8,225.2 321.7,225.9 322.7,226.6 323.7,227.2 324.6,227.7 325.6,228.2 326.6,228.7 327.5,229.2 328.5,230.0 329.5,230.8 330.5,231.3 331.4,231.4 332.4,231.5 333.4,232.1 334.3,232.7 335.3,233.1 336.3,233.6 337.2,233.9 338.2,234.2 339.2,234.5 340.2,234.8 341.1,235.3 342.1,235.7 343.1,236.0 344.0,236.2 345.0,235.9 346.0,235.9 347.0,236.5 347.9,237.2 348.9,237.5 349.9,237.7 350.8,238.1 351.8,238.3 352.8,238.3" fill="none" stroke="#0000FF" stroke-width="3.0" stroke-linejoin="round" stroke-linecap="round"/></g>
<path d="M103.4 213.5 V190" stroke="#0000FF" stroke-width="2.6" fill="none"/><path d="M103.4 183.4 L99.8 194.3 H107 Z" fill="#0000FF"/>
<path d="M223.7 153 V58" stroke="#FF0080" stroke-width="3.0" fill="none"/><path d="M223.7 46.3 L218.8 61.2 H228.6 Z" fill="#FF0080"/>
<path d="M305.6 166.2 V82" stroke="#000" stroke-width="2.7" fill="none"/><path d="M305.6 73.5 L301.7 85 H309.5 Z" fill="#000"/>
<g stroke="#000" stroke-width="1.5" fill="none">
<path d="M52.0 4.0 V249.2"/>
<path d="M51.2 248.4 H382.3"/>
<path d="M46.3 243.5H52.0M46.3 195.8H52.0M46.3 148.0H52.0M46.3 100.2H52.0M46.3 52.5H52.0M46.3 4.8H52.0M48.8 219.6H52.0M48.8 171.9H52.0M48.8 124.1H52.0M48.8 76.4H52.0M48.8 28.6H52.0M90.5 248.4V253.9M139.0 248.4V253.9M187.5 248.4V253.9M236.0 248.4V253.9M284.6 248.4V253.9M333.1 248.4V253.9M381.6 248.4V253.9M66.2 248.4V251.6M114.8 248.4V251.6M163.3 248.4V251.6M211.8 248.4V251.6M260.3 248.4V251.6M308.8 248.4V251.6M357.3 248.4V251.6"/>
</g>
<g font-size="12px">
<text x="43.6" y="248.3" text-anchor="end">0</text>
<text x="43.6" y="200.6" text-anchor="end">100</text>
<text x="43.6" y="152.8" text-anchor="end">200</text>
<text x="43.6" y="105.0" text-anchor="end">300</text>
<text x="43.6" y="57.3" text-anchor="end">400</text>
<text x="43.6" y="9.6" text-anchor="end">500</text>
<text x="90.8" y="266.4" text-anchor="middle">400</text>
<text x="139.3" y="266.4" text-anchor="middle">450</text>
<text x="187.8" y="266.4" text-anchor="middle">500</text>
<text x="236.3" y="266.4" text-anchor="middle">550</text>
<text x="284.9" y="266.4" text-anchor="middle">600</text>
<text x="333.4" y="266.4" text-anchor="middle">650</text>
<text x="380.9" y="266.4" text-anchor="middle">700</text>
</g>
<text font-size="14px" transform="translate(10.2 211.6) rotate(-90)" textLength="188" lengthAdjust="spacingAndGlyphs">Fluorescence Intensity (a.u.)</text>
<text font-size="14px" x="162.3" y="285" textLength="109.3" lengthAdjust="spacingAndGlyphs">Wavelength (nm)</text>
<text font-size="18px" x="61.7" y="13.4">a</text>
<text font-size="13px" x="298.6" y="74.4" textLength="33.4" lengthAdjust="spacing">50<tspan font-weight="normal" font-family="'Liberation Serif', 'DejaVu Serif', serif">μ</tspan>M</text>
<text font-size="13px" x="306.5" y="180" text-anchor="middle">0</text>
<text font-size="14px" font-weight="normal" x="311.8" y="129.5" textLength="35.2" lengthAdjust="spacing">N<tspan dy="5" font-size="13px">2</tspan><tspan dy="-5">H</tspan><tspan dy="5" font-size="13px">4</tspan></text>
<g stroke="#000" stroke-width="1.5" fill="none">
<path d="M52.0 335.3 V554.9"/>
<path d="M51.2 554.1 H348.8"/>
<path d="M47.2 554.1H52.0M47.2 514.5H52.0M47.2 474.8H52.0M47.2 435.2H52.0M47.2 395.5H52.0M47.2 355.9H52.0M49.2 534.3H52.0M49.2 494.6H52.0M49.2 455.0H52.0M49.2 415.4H52.0M49.2 375.7H52.0M49.2 336.1H52.0M52.0 554.1V558.3M105.8 554.1V558.3M159.6 554.1V558.3M213.5 554.1V558.3M267.3 554.1V558.3M321.1 554.1V558.3M78.9 554.1V556.7M132.7 554.1V556.7M186.6 554.1V556.7M240.4 554.1V556.7M294.2 554.1V556.7M348.0 554.1V556.7"/>
</g>
<g font-size="11.5px">
<text x="44.9" y="558.3" text-anchor="end">0</text>
<text x="44.9" y="518.7" text-anchor="end">50</text>
<text x="44.9" y="479.0" text-anchor="end">100</text>
<text x="44.9" y="439.4" text-anchor="end">150</text>
<text x="44.9" y="399.7" text-anchor="end">200</text>
<text x="44.9" y="360.1" text-anchor="end">250</text>
<text x="52.0" y="570" text-anchor="middle">0</text>
<text x="105.8" y="570" text-anchor="middle">2</text>
<text x="159.6" y="570" text-anchor="middle">4</text>
<text x="213.5" y="570" text-anchor="middle">6</text>
<text x="267.3" y="570" text-anchor="middle">8</text>
<text x="321.1" y="570" text-anchor="middle">10</text>
</g>
<text font-size="12.5px" transform="translate(14.3 537.9) rotate(-90)" textLength="169.3" lengthAdjust="spacingAndGlyphs">Fluorescence Intensity (a.u.)</text>
<text font-size="12.2px" x="113.6" y="587.4" textLength="158.6" lengthAdjust="spacingAndGlyphs">Concentration of hydrazine</text>
<text font-size="12.5px" font-weight="normal" font-family="'Liberation Serif', 'DejaVu Serif', serif" x="276.2" y="587.8" textLength="22" lengthAdjust="spacingAndGlyphs">/μM</text>
<text font-size="19.5px" x="61.2" y="332">b</text>
<path d="M78.9 531.7 L321.1 363.6" stroke="#FF4040" stroke-width="0.9" fill="none"/>
<rect x="76.3" y="526.5" width="5.2" height="5.2" fill="#000"/>
<rect x="103.2" y="504.7" width="5.2" height="5.2" fill="#000"/>
<rect x="130.1" y="487.3" width="5.2" height="5.2" fill="#000"/>
<rect x="157.0" y="470.1" width="5.2" height="5.2" fill="#000"/>
<rect x="184.0" y="460.9" width="5.2" height="5.2" fill="#000"/>
<rect x="210.9" y="448.8" width="5.2" height="5.2" fill="#000"/>
<rect x="237.8" y="423.9" width="5.2" height="5.2" fill="#000"/>
<rect x="264.7" y="401.0" width="5.2" height="5.2" fill="#000"/>
<rect x="291.6" y="376.7" width="5.2" height="5.2" fill="#000"/>
<rect x="318.5" y="348.0" width="5.2" height="5.2" fill="#000"/>
<g font-weight="normal" font-family="'Liberation Serif', 'DejaVu Serif', serif" font-size="12.2px">
<text x="188.7" y="489.4" textLength="117" lengthAdjust="spacingAndGlyphs">Y=23.56139x+4.63649</text>
<text x="188.7" y="507.5" textLength="58.4" lengthAdjust="spacingAndGlyphs">R<tspan dy="-5" font-size="8px">2</tspan><tspan dy="5">=0.98024</tspan></text>
</g>
<g fill="none">
<rect x="57.9" y="340.1" width="150.6" height="89.6" stroke="#aaa" stroke-width="1"/>
<path d="M57.4 349.0H209.0M57.4 359.2H209.0M57.4 379.3H209.0M57.4 389.4H209.0M57.4 399.5H209.0M57.4 409.8H209.0M57.4 420.2H209.0M99.0 339.6V430.2M139.3 339.6V430.2M167.4 339.6V430.2" stroke="#b4b4b4" stroke-width="1"/>
<rect x="56.4" y="338.6" width="153.6" height="92.6" stroke="#333" stroke-width="1.2"/>
</g>
<g font-weight="normal" font-size="7px" fill="#2a2a2a">
<text x="58.6" y="346.7">Equation</text>
<text x="101.2" y="346.7">y = a + b*x</text>
<text x="58.6" y="356.6">Weight</text>
<clipPath id="c2"><rect x="99" y="349" width="39.6" height="11"/></clipPath><g clip-path="url(#c2)">
<text x="101.2" y="356.6">No Weighting</text>
</g>
<text x="58.6" y="366.8">Residual</text>
<text x="58.6" y="375.1">Sum of</text>
<text x="137.5" y="366.8" text-anchor="end">818.72822</text>
<text x="58.6" y="386.9">Pearson's r</text>
<text x="137.5" y="386.9" text-anchor="end">0.99118</text>
<text x="58.6" y="397.0">Adj. R-Squar</text>
<text x="137.5" y="397.0" text-anchor="end">0.98024</text>
<text x="141.5" y="406.7">Value</text>
<text x="169.6" y="406.7">Standard Err</text>
<text x="58.6" y="417.6">Fluorescenc</text>
<text x="101.2" y="417.6">Intercept</text>
<text x="165.6" y="417.6" text-anchor="end">4.63649</text>
<text x="208.2" y="417.6" text-anchor="end">6.9108</text>
<text x="58.6" y="428.4">Fluorescenc</text>
<text x="101.2" y="428.4">Slope</text>
<text x="165.6" y="428.4" text-anchor="end">23.5613</text>
<text x="208.2" y="428.4" text-anchor="end">1.11378</text>
</g>
</g></svg>
</body></html>
